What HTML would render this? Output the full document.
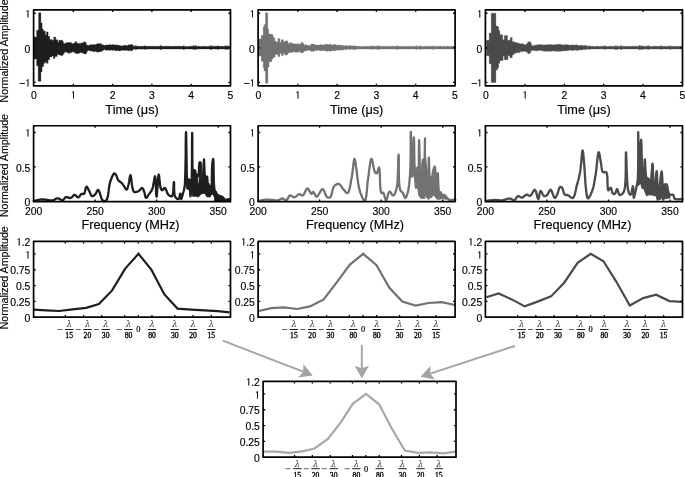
<!DOCTYPE html>
<html><head><meta charset="utf-8"><title>Figure</title>
<style>html,body{margin:0;padding:0;background:#fff;}svg{display:block;}</style></head>
<body><svg width="685" height="477" viewBox="0 0 685 477">
<rect width="685" height="477" fill="#fff"/>
<text transform="translate(8.40,51.00) rotate(-90)" x="0" y="0" font-size="10.6" text-anchor="middle" font-family='"Liberation Sans", Arial, Helvetica, sans-serif' stroke="#000" stroke-width="0.15">Normalized Amplitude</text>
<text transform="translate(8.40,165.60) rotate(-90)" x="0" y="0" font-size="10.6" text-anchor="middle" font-family='"Liberation Sans", Arial, Helvetica, sans-serif' stroke="#000" stroke-width="0.15">Normalized Amplitude</text>
<text transform="translate(8.40,277.80) rotate(-90)" x="0" y="0" font-size="10.6" text-anchor="middle" font-family='"Liberation Sans", Arial, Helvetica, sans-serif' stroke="#000" stroke-width="0.15">Normalized Amplitude</text>
<text x="34.00" y="98.90" font-size="10.4" text-anchor="middle" font-family='"Liberation Sans", Arial, Helvetica, sans-serif' stroke="#000" stroke-width="0.15" >0</text>
<text x="73.30" y="98.90" font-size="10.4" text-anchor="middle" font-family='"Liberation Sans", Arial, Helvetica, sans-serif' stroke="#000" stroke-width="0.15" ><tspan font-family="IPAGothic, 'Liberation Sans', sans-serif">1</tspan></text>
<text x="112.60" y="98.90" font-size="10.4" text-anchor="middle" font-family='"Liberation Sans", Arial, Helvetica, sans-serif' stroke="#000" stroke-width="0.15" >2</text>
<text x="151.90" y="98.90" font-size="10.4" text-anchor="middle" font-family='"Liberation Sans", Arial, Helvetica, sans-serif' stroke="#000" stroke-width="0.15" >3</text>
<text x="191.20" y="98.90" font-size="10.4" text-anchor="middle" font-family='"Liberation Sans", Arial, Helvetica, sans-serif' stroke="#000" stroke-width="0.15" >4</text>
<text x="230.50" y="98.90" font-size="10.4" text-anchor="middle" font-family='"Liberation Sans", Arial, Helvetica, sans-serif' stroke="#000" stroke-width="0.15" >5</text>
<text x="30.40" y="17.95" font-size="10.4" text-anchor="end" font-family='"Liberation Sans", Arial, Helvetica, sans-serif' stroke="#000" stroke-width="0.15" ><tspan font-family="IPAGothic, 'Liberation Sans', sans-serif">1</tspan></text>
<text x="30.40" y="52.55" font-size="10.4" text-anchor="end" font-family='"Liberation Sans", Arial, Helvetica, sans-serif' stroke="#000" stroke-width="0.15" >0</text>
<text x="30.40" y="87.15" font-size="10.4" text-anchor="end" font-family='"Liberation Sans", Arial, Helvetica, sans-serif' stroke="#000" stroke-width="0.15" >&#8722;<tspan font-family="IPAGothic, 'Liberation Sans', sans-serif">1</tspan></text>
<text x="132.05" y="113.60" font-size="12.7" text-anchor="middle" font-family='"Liberation Sans", Arial, Helvetica, sans-serif' stroke="#000" stroke-width="0.15" >Time (&#956;s)</text>
<text x="258.50" y="98.90" font-size="10.4" text-anchor="middle" font-family='"Liberation Sans", Arial, Helvetica, sans-serif' stroke="#000" stroke-width="0.15" >0</text>
<text x="297.80" y="98.90" font-size="10.4" text-anchor="middle" font-family='"Liberation Sans", Arial, Helvetica, sans-serif' stroke="#000" stroke-width="0.15" ><tspan font-family="IPAGothic, 'Liberation Sans', sans-serif">1</tspan></text>
<text x="337.10" y="98.90" font-size="10.4" text-anchor="middle" font-family='"Liberation Sans", Arial, Helvetica, sans-serif' stroke="#000" stroke-width="0.15" >2</text>
<text x="376.40" y="98.90" font-size="10.4" text-anchor="middle" font-family='"Liberation Sans", Arial, Helvetica, sans-serif' stroke="#000" stroke-width="0.15" >3</text>
<text x="415.70" y="98.90" font-size="10.4" text-anchor="middle" font-family='"Liberation Sans", Arial, Helvetica, sans-serif' stroke="#000" stroke-width="0.15" >4</text>
<text x="455.00" y="98.90" font-size="10.4" text-anchor="middle" font-family='"Liberation Sans", Arial, Helvetica, sans-serif' stroke="#000" stroke-width="0.15" >5</text>
<text x="254.90" y="17.95" font-size="10.4" text-anchor="end" font-family='"Liberation Sans", Arial, Helvetica, sans-serif' stroke="#000" stroke-width="0.15" ><tspan font-family="IPAGothic, 'Liberation Sans', sans-serif">1</tspan></text>
<text x="254.90" y="52.55" font-size="10.4" text-anchor="end" font-family='"Liberation Sans", Arial, Helvetica, sans-serif' stroke="#000" stroke-width="0.15" >0</text>
<text x="254.90" y="87.15" font-size="10.4" text-anchor="end" font-family='"Liberation Sans", Arial, Helvetica, sans-serif' stroke="#000" stroke-width="0.15" >&#8722;<tspan font-family="IPAGothic, 'Liberation Sans', sans-serif">1</tspan></text>
<text x="356.60" y="113.60" font-size="12.7" text-anchor="middle" font-family='"Liberation Sans", Arial, Helvetica, sans-serif' stroke="#000" stroke-width="0.15" >Time (&#956;s)</text>
<text x="485.80" y="98.90" font-size="10.4" text-anchor="middle" font-family='"Liberation Sans", Arial, Helvetica, sans-serif' stroke="#000" stroke-width="0.15" >0</text>
<text x="525.10" y="98.90" font-size="10.4" text-anchor="middle" font-family='"Liberation Sans", Arial, Helvetica, sans-serif' stroke="#000" stroke-width="0.15" ><tspan font-family="IPAGothic, 'Liberation Sans', sans-serif">1</tspan></text>
<text x="564.40" y="98.90" font-size="10.4" text-anchor="middle" font-family='"Liberation Sans", Arial, Helvetica, sans-serif' stroke="#000" stroke-width="0.15" >2</text>
<text x="603.70" y="98.90" font-size="10.4" text-anchor="middle" font-family='"Liberation Sans", Arial, Helvetica, sans-serif' stroke="#000" stroke-width="0.15" >3</text>
<text x="643.00" y="98.90" font-size="10.4" text-anchor="middle" font-family='"Liberation Sans", Arial, Helvetica, sans-serif' stroke="#000" stroke-width="0.15" >4</text>
<text x="682.30" y="98.90" font-size="10.4" text-anchor="middle" font-family='"Liberation Sans", Arial, Helvetica, sans-serif' stroke="#000" stroke-width="0.15" >5</text>
<text x="482.20" y="17.95" font-size="10.4" text-anchor="end" font-family='"Liberation Sans", Arial, Helvetica, sans-serif' stroke="#000" stroke-width="0.15" ><tspan font-family="IPAGothic, 'Liberation Sans', sans-serif">1</tspan></text>
<text x="482.20" y="52.55" font-size="10.4" text-anchor="end" font-family='"Liberation Sans", Arial, Helvetica, sans-serif' stroke="#000" stroke-width="0.15" >0</text>
<text x="482.20" y="87.15" font-size="10.4" text-anchor="end" font-family='"Liberation Sans", Arial, Helvetica, sans-serif' stroke="#000" stroke-width="0.15" >&#8722;<tspan font-family="IPAGothic, 'Liberation Sans', sans-serif">1</tspan></text>
<text x="583.95" y="113.60" font-size="12.7" text-anchor="middle" font-family='"Liberation Sans", Arial, Helvetica, sans-serif' stroke="#000" stroke-width="0.15" >Time (&#956;s)</text>
<polygon points="33.5,37.0 36.6,37.0 36.6,30.3 38.2,30.3 38.2,30.3 38.6,30.3 38.6,12.8 40.9,12.8 40.9,23.1 42.1,23.1 42.1,29.1 43.3,29.1 43.3,31.1 43.7,31.1 43.7,31.1 45.3,31.1 45.3,34.7 46.5,34.7 46.5,31.9 48.1,31.9 48.1,36.3 49.7,36.3 49.7,39.4 51.7,39.4 51.7,39.4 52.1,39.4 52.1,40.2 53.3,40.2 53.3,40.2 53.7,40.2 53.7,37.0 54.9,37.0 54.9,37.0 55.7,37.0 55.7,39.8 57.3,39.8 57.3,39.8 57.7,39.8 57.7,42.2 58.8,42.2 58.8,40.2 60.3,40.2 60.3,40.5 61.3,40.5 61.3,40.1 62.3,40.1 62.3,41.2 63.3,41.2 63.3,43.2 64.3,43.2 64.3,43.8 65.3,43.8 65.3,43.1 66.3,43.1 66.3,42.4 67.3,42.4 67.3,42.7 68.3,42.7 68.3,42.4 69.3,42.4 69.3,42.5 70.3,42.5 70.3,42.5 71.3,42.5 71.3,43.2 72.3,43.2 72.3,43.9 73.3,43.9 73.3,43.3 74.3,43.3 74.3,42.7 75.3,42.7 75.3,41.5 76.3,41.5 76.3,42.4 77.3,42.4 77.3,43.8 78.3,43.8 78.3,43.3 79.3,43.3 79.3,43.7 80.3,43.7 80.3,43.5 81.3,43.5 81.3,42.8 82.3,42.8 82.3,42.9 83.3,42.9 83.3,42.2 84.3,42.2 84.3,41.7 85.3,41.7 85.3,42.8 86.3,42.8 86.3,45.0 87.3,45.0 87.3,45.3 88.3,45.3 88.3,45.5 89.3,45.5 89.3,45.0 90.3,45.0 90.3,44.6 91.3,44.6 91.3,44.7 92.3,44.7 92.3,44.7 93.3,44.7 93.3,44.4 94.3,44.4 94.3,44.6 95.3,44.6 95.3,44.8 96.3,44.8 96.3,44.0 97.3,44.0 97.3,43.4 98.3,43.4 98.3,43.7 99.3,43.7 99.3,43.8 100.3,43.8 100.3,43.6 101.3,43.6 101.3,44.4 102.3,44.4 102.3,44.8 103.3,44.8 103.3,45.3 104.3,45.3 104.3,45.5 105.3,45.5 105.3,45.1 106.3,45.1 106.3,44.9 107.3,44.9 107.3,45.1 108.3,45.1 108.3,45.1 109.3,45.1 109.3,44.4 110.3,44.4 110.3,45.0 111.3,45.0 111.3,44.9 112.3,44.9 112.3,44.5 113.3,44.5 113.3,45.1 114.3,45.1 114.3,45.0 115.3,45.0 115.3,44.7 116.3,44.7 116.3,45.2 117.3,45.2 117.3,45.1 118.3,45.1 118.3,45.3 119.3,45.3 119.3,45.5 120.3,45.5 120.3,45.8 121.3,45.8 121.3,46.0 122.3,46.0 122.3,45.8 123.3,45.8 123.3,45.6 124.3,45.6 124.3,45.3 125.3,45.3 125.3,45.5 126.3,45.5 126.3,45.4 127.3,45.4 127.3,45.5 128.3,45.5 128.3,44.7 129.3,44.7 129.3,44.9 130.3,44.9 130.3,44.6 131.3,44.6 131.3,44.6 132.3,44.6 132.3,45.1 133.3,45.1 133.3,46.4 134.3,46.4 134.3,46.2 135.3,46.2 135.3,45.6 136.3,45.6 136.3,46.2 137.3,46.2 137.3,46.2 138.3,46.2 138.3,46.3 139.3,46.3 139.3,46.2 140.3,46.2 140.3,46.3 141.3,46.3 141.3,46.2 142.3,46.2 142.3,46.2 143.3,46.2 143.3,46.3 144.3,46.3 144.3,45.8 145.3,45.8 145.3,46.3 146.3,46.3 146.3,46.2 147.3,46.2 147.3,46.3 148.3,46.3 148.3,46.3 149.3,46.3 149.3,46.2 150.3,46.2 150.3,46.3 151.3,46.3 151.3,46.3 152.3,46.3 152.3,46.2 153.3,46.2 153.3,46.2 154.3,46.2 154.3,46.2 155.3,46.2 155.3,46.2 156.3,46.2 156.3,46.4 157.3,46.4 157.3,46.2 158.3,46.2 158.3,46.2 159.3,46.2 159.3,46.3 160.3,46.3 160.3,45.6 161.3,45.6 161.3,46.2 162.3,46.2 162.3,46.2 163.3,46.2 163.3,46.3 164.3,46.3 164.3,46.3 165.3,46.3 165.3,46.2 166.3,46.2 166.3,46.3 167.3,46.3 167.3,46.2 168.3,46.2 168.3,46.2 169.3,46.2 169.3,46.3 170.3,46.3 170.3,46.4 171.3,46.4 171.3,46.3 172.3,46.3 172.3,46.3 173.3,46.3 173.3,46.3 174.3,46.3 174.3,46.2 175.3,46.2 175.3,46.3 176.3,46.3 176.3,46.3 177.3,46.3 177.3,46.2 178.3,46.2 178.3,46.3 179.3,46.3 179.3,46.3 180.3,46.3 180.3,46.3 181.3,46.3 181.3,46.3 182.3,46.3 182.3,46.4 183.3,46.4 183.3,45.7 184.3,45.7 184.3,46.4 185.3,46.4 185.3,46.4 186.3,46.4 186.3,46.4 187.3,46.4 187.3,46.4 188.3,46.4 188.3,46.4 189.3,46.4 189.3,46.3 190.3,46.3 190.3,46.2 191.3,46.2 191.3,46.3 192.3,46.3 192.3,46.3 193.3,46.3 193.3,45.6 194.3,45.6 194.3,46.4 195.3,46.4 195.3,45.6 196.3,45.6 196.3,46.4 197.3,46.4 197.3,46.3 198.3,46.3 198.3,46.3 199.3,46.3 199.3,46.4 200.3,46.4 200.3,46.4 201.3,46.4 201.3,46.2 202.3,46.2 202.3,46.4 203.3,46.4 203.3,46.3 204.3,46.3 204.3,46.3 205.3,46.3 205.3,46.3 206.3,46.3 206.3,46.4 207.3,46.4 207.3,46.4 208.3,46.4 208.3,46.3 209.3,46.3 209.3,46.4 210.3,46.4 210.3,45.6 211.3,45.6 211.3,46.3 212.3,46.3 212.3,46.2 213.3,46.2 213.3,46.2 214.3,46.2 214.3,46.3 215.3,46.3 215.3,46.2 216.3,46.2 216.3,46.3 217.3,46.3 217.3,45.7 218.3,45.7 218.3,46.3 219.3,46.3 219.3,46.3 220.3,46.3 220.3,46.3 221.3,46.3 221.3,46.3 222.3,46.3 222.3,46.4 223.3,46.4 223.3,46.3 224.3,46.3 224.3,46.3 225.3,46.3 225.3,45.7 226.3,45.7 226.3,46.4 227.3,46.4 227.3,45.7 228.3,45.7 228.3,46.4 229.3,46.4 229.3,46.4 230.0,46.4 230.0,48.9 229.3,48.9 229.3,48.8 228.3,48.8 228.3,49.5 227.3,49.5 227.3,48.9 226.3,48.9 226.3,49.6 225.3,49.6 225.3,48.9 224.3,48.9 224.3,49.0 223.3,49.0 223.3,49.0 222.3,49.0 222.3,49.0 221.3,49.0 221.3,48.9 220.3,48.9 220.3,49.1 219.3,49.1 219.3,48.9 218.3,48.9 218.3,49.5 217.3,49.5 217.3,49.0 216.3,49.0 216.3,49.1 215.3,49.1 215.3,49.1 214.3,49.1 214.3,49.1 213.3,49.1 213.3,49.1 212.3,49.1 212.3,49.0 211.3,49.0 211.3,49.7 210.3,49.7 210.3,48.9 209.3,48.9 209.3,49.0 208.3,49.0 208.3,49.0 207.3,49.0 207.3,48.9 206.3,48.9 206.3,48.9 205.3,48.9 205.3,48.9 204.3,48.9 204.3,49.0 203.3,49.0 203.3,48.9 202.3,48.9 202.3,49.0 201.3,49.0 201.3,48.9 200.3,48.9 200.3,48.9 199.3,48.9 199.3,49.0 198.3,49.0 198.3,48.9 197.3,48.9 197.3,49.0 196.3,49.0 196.3,49.6 195.3,49.6 195.3,48.9 194.3,48.9 194.3,49.7 193.3,49.7 193.3,49.0 192.3,49.0 192.3,48.9 191.3,48.9 191.3,49.0 190.3,49.0 190.3,48.9 189.3,48.9 189.3,48.9 188.3,48.9 188.3,49.0 187.3,49.0 187.3,49.0 186.3,49.0 186.3,49.0 185.3,49.0 185.3,48.9 184.3,48.9 184.3,49.7 183.3,49.7 183.3,48.9 182.3,48.9 182.3,48.9 181.3,48.9 181.3,49.1 180.3,49.1 180.3,49.1 179.3,49.1 179.3,49.0 178.3,49.0 178.3,49.0 177.3,49.0 177.3,49.0 176.3,49.0 176.3,49.1 175.3,49.1 175.3,49.1 174.3,49.1 174.3,49.0 173.3,49.0 173.3,49.0 172.3,49.0 172.3,49.0 171.3,49.0 171.3,48.9 170.3,48.9 170.3,48.9 169.3,48.9 169.3,49.0 168.3,49.0 168.3,49.1 167.3,49.1 167.3,49.1 166.3,49.1 166.3,49.1 165.3,49.1 165.3,48.9 164.3,48.9 164.3,48.9 163.3,48.9 163.3,49.0 162.3,49.0 162.3,49.1 161.3,49.1 161.3,49.7 160.3,49.7 160.3,49.0 159.3,49.0 159.3,49.1 158.3,49.1 158.3,49.0 157.3,49.0 157.3,48.9 156.3,48.9 156.3,49.1 155.3,49.1 155.3,49.1 154.3,49.1 154.3,49.1 153.3,49.1 153.3,49.1 152.3,49.1 152.3,49.1 151.3,49.1 151.3,49.1 150.3,49.1 150.3,49.1 149.3,49.1 149.3,48.9 148.3,48.9 148.3,48.9 147.3,48.9 147.3,49.2 146.3,49.2 146.3,49.1 145.3,49.1 145.3,49.5 144.3,49.5 144.3,49.0 143.3,49.0 143.3,49.1 142.3,49.1 142.3,49.2 141.3,49.2 141.3,48.9 140.3,48.9 140.3,49.1 139.3,49.1 139.3,48.9 138.3,48.9 138.3,49.2 137.3,49.2 137.3,49.0 136.3,49.0 136.3,49.7 135.3,49.7 135.3,49.0 134.3,49.0 134.3,48.9 133.3,48.9 133.3,50.1 132.3,50.1 132.3,50.9 131.3,50.9 131.3,50.6 130.3,50.6 130.3,50.5 129.3,50.5 129.3,50.8 128.3,50.8 128.3,50.4 127.3,50.4 127.3,50.3 126.3,50.3 126.3,50.2 125.3,50.2 125.3,50.4 124.3,50.4 124.3,50.3 123.3,50.3 123.3,50.2 122.3,50.2 122.3,50.3 121.3,50.3 121.3,50.5 120.3,50.5 120.3,50.9 119.3,50.9 119.3,50.9 118.3,50.9 118.3,50.5 117.3,50.5 117.3,50.5 116.3,50.5 116.3,50.9 115.3,50.9 115.3,50.3 114.3,50.3 114.3,50.0 113.3,50.0 113.3,50.4 112.3,50.4 112.3,50.1 111.3,50.1 111.3,49.9 110.3,49.9 110.3,50.5 109.3,50.5 109.3,50.1 108.3,50.1 108.3,49.9 107.3,49.9 107.3,50.4 106.3,50.4 106.3,50.1 105.3,50.1 105.3,49.6 104.3,49.6 104.3,50.1 103.3,50.1 103.3,50.4 102.3,50.4 102.3,51.2 101.3,51.2 101.3,51.7 100.3,51.7 100.3,51.5 99.3,51.5 99.3,51.9 98.3,51.9 98.3,52.2 97.3,52.2 97.3,52.1 96.3,52.1 96.3,51.3 95.3,51.3 95.3,51.6 94.3,51.6 94.3,51.8 93.3,51.8 93.3,51.2 92.3,51.2 92.3,51.1 91.3,51.1 91.3,51.1 90.3,51.1 90.3,50.9 89.3,50.9 89.3,50.2 88.3,50.2 88.3,50.6 87.3,50.6 87.3,52.2 86.3,52.2 86.3,54.0 85.3,54.0 85.3,54.0 84.3,54.0 84.3,53.5 83.3,53.5 83.3,52.7 82.3,52.7 82.3,53.0 81.3,53.0 81.3,52.3 80.3,52.3 80.3,52.7 79.3,52.7 79.3,53.6 78.3,53.6 78.3,53.3 77.3,53.3 77.3,53.7 76.3,53.7 76.3,53.4 75.3,53.4 75.3,52.5 74.3,52.5 74.3,52.3 73.3,52.3 73.3,51.5 72.3,51.5 72.3,52.3 71.3,52.3 71.3,52.8 70.3,52.8 70.3,52.8 69.3,52.8 69.3,53.4 68.3,53.4 68.3,52.4 67.3,52.4 67.3,52.6 66.3,52.6 66.3,51.8 65.3,51.8 65.3,52.3 64.3,52.3 64.3,53.5 63.3,53.5 63.3,55.1 62.3,55.1 62.3,55.8 61.3,55.8 61.3,55.2 60.3,55.2 60.3,55.0 58.8,55.0 58.8,54.2 57.7,54.2 57.7,54.2 57.3,54.2 57.3,56.5 55.7,56.5 55.7,56.5 54.9,56.5 54.9,58.5 53.7,58.5 53.7,58.5 53.3,58.5 53.3,56.1 52.1,56.1 52.1,56.1 51.7,56.1 51.7,56.9 49.7,56.9 49.7,59.7 48.1,59.7 48.1,63.3 46.5,63.3 46.5,61.7 45.3,61.7 45.3,63.3 43.7,63.3 43.7,66.5 43.3,66.5 43.3,66.5 42.1,66.5 42.1,71.7 40.9,71.7 40.9,81.2 38.6,81.2 38.6,81.2 38.2,81.2 38.2,65.7 36.6,65.7 36.6,58.9 33.5,58.9" fill="#1e1e1e" stroke="#1e1e1e" stroke-width="0.3" stroke-linejoin="miter"/>
<polygon points="258.8,39.0 261.2,39.0 261.2,35.5 263.2,35.5 263.2,26.7 264.0,26.7 264.0,26.7 264.4,26.7 264.4,24.3 265.5,24.3 265.5,12.8 267.8,12.8 267.8,29.1 267.9,29.1 267.9,29.1 268.7,29.1 268.7,33.9 269.1,33.9 269.1,33.9 271.5,33.9 271.5,34.7 271.9,34.7 271.9,34.7 273.1,34.7 273.1,37.4 274.7,37.4 274.7,41.0 275.1,41.0 275.1,41.0 276.3,41.0 276.3,42.2 277.9,42.2 277.9,38.6 279.9,38.6 279.9,42.6 281.1,42.6 281.1,39.8 281.5,39.8 281.5,39.8 283.4,39.8 283.4,41.8 284.9,41.8 284.9,41.0 285.9,41.0 285.9,40.7 286.9,40.7 286.9,41.1 287.9,41.1 287.9,43.3 288.9,43.3 288.9,43.6 289.9,43.6 289.9,42.4 290.9,42.4 290.9,42.9 291.9,42.9 291.9,43.6 292.9,43.6 292.9,43.5 293.9,43.5 293.9,44.1 294.9,44.1 294.9,43.9 295.9,43.9 295.9,44.0 296.9,44.0 296.9,43.8 297.9,43.8 297.9,43.8 298.9,43.8 298.9,44.4 299.9,44.4 299.9,43.7 300.9,43.7 300.9,42.7 301.9,42.7 301.9,42.5 302.9,42.5 302.9,43.4 303.9,43.4 303.9,45.2 304.9,45.2 304.9,44.6 305.9,44.6 305.9,44.9 306.9,44.9 306.9,45.4 307.9,45.4 307.9,45.2 308.9,45.2 308.9,45.4 309.9,45.4 309.9,45.5 310.9,45.5 310.9,44.1 311.9,44.1 311.9,44.1 312.9,44.1 312.9,44.0 313.9,44.0 313.9,44.3 314.9,44.3 314.9,44.9 315.9,44.9 315.9,45.1 316.9,45.1 316.9,45.0 317.9,45.0 317.9,45.1 318.9,45.1 318.9,45.0 319.9,45.0 319.9,44.6 320.9,44.6 320.9,44.9 321.9,44.9 321.9,44.7 322.9,44.7 322.9,45.1 323.9,45.1 323.9,45.0 324.9,45.0 324.9,44.1 325.9,44.1 325.9,44.7 326.9,44.7 326.9,44.1 327.9,44.1 327.9,44.7 328.9,44.7 328.9,44.0 329.9,44.0 329.9,44.4 330.9,44.4 330.9,44.7 331.9,44.7 331.9,45.1 332.9,45.1 332.9,44.8 333.9,44.8 333.9,44.6 334.9,44.6 334.9,44.5 335.9,44.5 335.9,45.2 336.9,45.2 336.9,45.0 337.9,45.0 337.9,45.2 338.9,45.2 338.9,45.3 339.9,45.3 339.9,44.9 340.9,44.9 340.9,45.2 341.9,45.2 341.9,45.8 342.9,45.8 342.9,45.4 343.9,45.4 343.9,45.7 344.9,45.7 344.9,45.8 345.9,45.8 345.9,45.6 346.9,45.6 346.9,45.8 347.9,45.8 347.9,46.0 348.9,46.0 348.9,45.6 349.9,45.6 349.9,45.6 350.9,45.6 350.9,46.1 351.9,46.1 351.9,46.1 352.9,46.1 352.9,45.8 353.9,45.8 353.9,45.9 354.9,45.9 354.9,45.9 355.9,45.9 355.9,46.1 356.9,46.1 356.9,46.5 357.9,46.5 357.9,46.3 358.9,46.3 358.9,46.3 359.9,46.3 359.9,46.4 360.9,46.4 360.9,46.4 361.9,46.4 361.9,46.4 362.9,46.4 362.9,46.3 363.9,46.3 363.9,46.4 364.9,46.4 364.9,46.3 365.9,46.3 365.9,46.2 366.9,46.2 366.9,46.3 367.9,46.3 367.9,46.4 368.9,46.4 368.9,46.3 369.9,46.3 369.9,46.3 370.9,46.3 370.9,46.3 371.9,46.3 371.9,45.8 372.9,45.8 372.9,46.3 373.9,46.3 373.9,46.3 374.9,46.3 374.9,46.3 375.9,46.3 375.9,46.3 376.9,46.3 376.9,45.8 377.9,45.8 377.9,46.3 378.9,46.3 378.9,45.8 379.9,45.8 379.9,46.3 380.9,46.3 380.9,46.4 381.9,46.4 381.9,46.3 382.9,46.3 382.9,46.3 383.9,46.3 383.9,46.2 384.9,46.2 384.9,46.4 385.9,46.4 385.9,46.3 386.9,46.3 386.9,46.3 387.9,46.3 387.9,46.4 388.9,46.4 388.9,46.3 389.9,46.3 389.9,46.4 390.9,46.4 390.9,46.2 391.9,46.2 391.9,46.3 392.9,46.3 392.9,46.2 393.9,46.2 393.9,46.4 394.9,46.4 394.9,46.3 395.9,46.3 395.9,46.2 396.9,46.2 396.9,45.7 397.9,45.7 397.9,46.4 398.9,46.4 398.9,46.3 399.9,46.3 399.9,46.4 400.9,46.4 400.9,46.4 401.9,46.4 401.9,46.2 402.9,46.2 402.9,46.4 403.9,46.4 403.9,46.2 404.9,46.2 404.9,46.4 405.9,46.4 405.9,46.4 406.9,46.4 406.9,46.2 407.9,46.2 407.9,46.2 408.9,46.2 408.9,46.4 409.9,46.4 409.9,46.4 410.9,46.4 410.9,46.3 411.9,46.3 411.9,46.4 412.9,46.4 412.9,46.2 413.9,46.2 413.9,46.4 414.9,46.4 414.9,46.2 415.9,46.2 415.9,45.7 416.9,45.7 416.9,46.4 417.9,46.4 417.9,46.4 418.9,46.4 418.9,46.2 419.9,46.2 419.9,45.8 420.9,45.8 420.9,46.3 421.9,46.3 421.9,46.4 422.9,46.4 422.9,46.4 423.9,46.4 423.9,46.3 424.9,46.3 424.9,46.2 425.9,46.2 425.9,46.4 426.9,46.4 426.9,46.2 427.9,46.2 427.9,46.4 428.9,46.4 428.9,46.2 429.9,46.2 429.9,46.3 430.9,46.3 430.9,46.3 431.9,46.3 431.9,46.4 432.9,46.4 432.9,45.8 433.9,45.8 433.9,46.4 434.9,46.4 434.9,46.4 435.9,46.4 435.9,46.2 436.9,46.2 436.9,46.4 437.9,46.4 437.9,46.3 438.9,46.3 438.9,46.3 439.9,46.3 439.9,46.2 440.9,46.2 440.9,46.2 441.9,46.2 441.9,46.4 442.9,46.4 442.9,46.3 443.9,46.3 443.9,46.2 444.9,46.2 444.9,46.4 445.9,46.4 445.9,46.4 446.9,46.4 446.9,46.1 447.9,46.1 447.9,46.3 448.9,46.3 448.9,46.4 449.9,46.4 449.9,46.4 450.9,46.4 450.9,46.2 451.9,46.2 451.9,46.3 452.9,46.3 452.9,46.2 453.9,46.2 453.9,46.2 454.9,46.2 454.9,46.4 455.5,46.4 455.5,48.9 454.9,48.9 454.9,49.0 453.9,49.0 453.9,49.1 452.9,49.1 452.9,49.0 451.9,49.0 451.9,49.1 450.9,49.1 450.9,49.0 449.9,49.0 449.9,48.9 448.9,48.9 448.9,49.1 447.9,49.1 447.9,49.1 446.9,49.1 446.9,49.0 445.9,49.0 445.9,49.0 444.9,49.0 444.9,49.1 443.9,49.1 443.9,48.9 442.9,48.9 442.9,49.0 441.9,49.0 441.9,49.1 440.9,49.1 440.9,49.1 439.9,49.1 439.9,49.0 438.9,49.0 438.9,49.0 437.9,49.0 437.9,48.9 436.9,48.9 436.9,49.1 435.9,49.1 435.9,49.0 434.9,49.0 434.9,48.8 433.9,48.8 433.9,49.6 432.9,49.6 432.9,49.0 431.9,49.0 431.9,49.0 430.9,49.0 430.9,49.1 429.9,49.1 429.9,49.1 428.9,49.1 428.9,48.9 427.9,48.9 427.9,49.2 426.9,49.2 426.9,48.9 425.9,48.9 425.9,49.1 424.9,49.1 424.9,48.9 423.9,48.9 423.9,49.0 422.9,49.0 422.9,49.0 421.9,49.0 421.9,49.1 420.9,49.1 420.9,49.5 419.9,49.5 419.9,49.0 418.9,49.0 418.9,48.9 417.9,48.9 417.9,48.9 416.9,48.9 416.9,49.6 415.9,49.6 415.9,49.1 414.9,49.1 414.9,48.9 413.9,48.9 413.9,49.1 412.9,49.1 412.9,48.9 411.9,48.9 411.9,49.0 410.9,49.0 410.9,48.9 409.9,48.9 409.9,49.0 408.9,49.0 408.9,49.2 407.9,49.2 407.9,49.1 406.9,49.1 406.9,48.8 405.9,48.8 405.9,49.0 404.9,49.0 404.9,49.1 403.9,49.1 403.9,48.9 402.9,48.9 402.9,49.1 401.9,49.1 401.9,49.0 400.9,49.0 400.9,49.0 399.9,49.0 399.9,49.0 398.9,49.0 398.9,49.0 397.9,49.0 397.9,49.6 396.9,49.6 396.9,49.1 395.9,49.1 395.9,49.0 394.9,49.0 394.9,48.9 393.9,48.9 393.9,49.1 392.9,49.1 392.9,49.0 391.9,49.0 391.9,49.1 390.9,49.1 390.9,48.9 389.9,48.9 389.9,48.9 388.9,48.9 388.9,48.9 387.9,48.9 387.9,49.1 386.9,49.1 386.9,48.9 385.9,48.9 385.9,49.0 384.9,49.0 384.9,49.0 383.9,49.0 383.9,49.1 382.9,49.1 382.9,49.1 381.9,49.1 381.9,48.9 380.9,48.9 380.9,49.1 379.9,49.1 379.9,49.6 378.9,49.6 378.9,49.0 377.9,49.0 377.9,49.5 376.9,49.5 376.9,49.1 375.9,49.1 375.9,49.0 374.9,49.0 374.9,48.9 373.9,48.9 373.9,49.0 372.9,49.0 372.9,49.6 371.9,49.6 371.9,49.0 370.9,49.0 370.9,49.0 369.9,49.0 369.9,49.1 368.9,49.1 368.9,48.9 367.9,48.9 367.9,48.9 366.9,48.9 366.9,49.1 365.9,49.1 365.9,49.0 364.9,49.0 364.9,48.9 363.9,48.9 363.9,49.0 362.9,49.0 362.9,49.0 361.9,49.0 361.9,49.0 360.9,49.0 360.9,48.9 359.9,48.9 359.9,48.9 358.9,48.9 358.9,49.1 357.9,49.1 357.9,48.9 356.9,48.9 356.9,49.2 355.9,49.2 355.9,49.5 354.9,49.5 354.9,49.4 353.9,49.4 353.9,49.5 352.9,49.5 352.9,49.0 351.9,49.0 351.9,49.1 350.9,49.1 350.9,49.5 349.9,49.5 349.9,49.4 348.9,49.4 348.9,48.9 347.9,48.9 347.9,49.3 346.9,49.3 346.9,49.5 345.9,49.5 345.9,49.6 344.9,49.6 344.9,49.5 343.9,49.5 343.9,50.0 342.9,50.0 342.9,49.6 341.9,49.6 341.9,50.2 340.9,50.2 340.9,50.2 339.9,50.2 339.9,49.9 338.9,49.9 338.9,50.0 337.9,50.0 337.9,50.3 336.9,50.3 336.9,49.9 335.9,49.9 335.9,50.8 334.9,50.8 334.9,50.7 333.9,50.7 333.9,50.8 332.9,50.8 332.9,50.5 331.9,50.5 331.9,51.0 330.9,51.0 330.9,51.0 329.9,51.0 329.9,51.3 328.9,51.3 328.9,50.7 327.9,50.7 327.9,51.3 326.9,51.3 326.9,50.9 325.9,50.9 325.9,51.1 324.9,51.1 324.9,50.6 323.9,50.6 323.9,50.5 322.9,50.5 322.9,50.7 321.9,50.7 321.9,50.5 320.9,50.5 320.9,50.9 319.9,50.9 319.9,50.5 318.9,50.5 318.9,50.0 317.9,50.0 317.9,50.4 316.9,50.4 316.9,50.4 315.9,50.4 315.9,50.2 314.9,50.2 314.9,51.1 313.9,51.1 313.9,51.5 312.9,51.5 312.9,51.1 311.9,51.1 311.9,51.5 310.9,51.5 310.9,50.6 309.9,50.6 309.9,50.4 308.9,50.4 308.9,50.3 307.9,50.3 307.9,50.4 306.9,50.4 306.9,50.8 305.9,50.8 305.9,51.1 304.9,51.1 304.9,50.9 303.9,50.9 303.9,52.2 302.9,52.2 302.9,52.9 301.9,52.9 301.9,52.9 300.9,52.9 300.9,52.0 299.9,52.0 299.9,51.5 298.9,51.5 298.9,52.0 297.9,52.0 297.9,52.3 296.9,52.3 296.9,52.2 295.9,52.2 295.9,52.2 294.9,52.2 294.9,51.8 293.9,51.8 293.9,52.1 292.9,52.1 292.9,52.1 291.9,52.1 291.9,52.7 290.9,52.7 290.9,52.6 289.9,52.6 289.9,52.4 288.9,52.4 288.9,53.0 287.9,53.0 287.9,54.4 286.9,54.4 286.9,55.0 285.9,55.0 285.9,55.2 284.9,55.2 284.9,53.4 283.4,53.4 283.4,55.4 281.5,55.4 281.5,53.4 281.1,53.4 281.1,53.4 279.9,53.4 279.9,56.5 277.9,56.5 277.9,54.6 276.3,54.6 276.3,54.6 275.1,54.6 275.1,57.3 274.7,57.3 274.7,57.3 273.1,57.3 273.1,58.9 271.9,58.9 271.9,61.7 271.5,61.7 271.5,61.7 269.1,61.7 269.1,66.9 268.7,66.9 268.7,66.9 267.9,66.9 267.9,83.2 267.8,83.2 267.8,83.2 265.5,83.2 265.5,70.9 264.4,70.9 264.4,70.9 264.0,70.9 264.0,67.7 263.2,67.7 263.2,61.3 261.2,61.3 261.2,56.1 258.8,56.1" fill="#727272" stroke="#727272" stroke-width="0.3" stroke-linejoin="miter"/>
<polygon points="486.4,40.2 489.2,40.2 489.2,33.1 491.2,33.1 491.2,13.2 495.9,13.2 495.9,25.9 497.5,25.9 497.5,26.7 498.7,26.7 498.7,30.7 499.9,30.7 499.9,34.7 502.7,34.7 502.7,39.8 503.1,39.8 503.1,39.8 504.3,39.8 504.3,35.5 507.5,35.5 507.5,40.2 507.9,40.2 507.9,40.2 509.9,40.2 509.9,40.2 510.3,40.2 510.3,37.4 512.2,37.4 512.2,41.4 513.7,41.4 513.7,42.2 514.7,42.2 514.7,41.9 515.7,41.9 515.7,43.0 516.7,43.0 516.7,42.5 517.7,42.5 517.7,43.4 518.7,43.4 518.7,43.2 519.7,43.2 519.7,44.0 520.7,44.0 520.7,43.8 521.7,43.8 521.7,43.5 522.7,43.5 522.7,44.3 523.7,44.3 523.7,44.3 524.7,44.3 524.7,44.9 525.7,44.9 525.7,44.4 526.7,44.4 526.7,43.4 527.7,43.4 527.7,41.9 528.7,41.9 528.7,41.9 529.7,41.9 529.7,41.7 530.7,41.7 530.7,43.7 531.7,43.7 531.7,45.8 532.7,45.8 532.7,45.7 533.7,45.7 533.7,45.2 534.7,45.2 534.7,45.5 535.7,45.5 535.7,44.9 536.7,44.9 536.7,45.1 537.7,45.1 537.7,44.7 538.7,44.7 538.7,44.7 539.7,44.7 539.7,44.4 540.7,44.4 540.7,44.9 541.7,44.9 541.7,44.6 542.7,44.6 542.7,45.2 543.7,45.2 543.7,44.9 544.7,44.9 544.7,45.1 545.7,45.1 545.7,44.7 546.7,44.7 546.7,44.7 547.7,44.7 547.7,44.6 548.7,44.6 548.7,44.6 549.7,44.6 549.7,45.1 550.7,45.1 550.7,44.5 551.7,44.5 551.7,45.1 552.7,45.1 552.7,44.8 553.7,44.8 553.7,45.0 554.7,45.0 554.7,44.6 555.7,44.6 555.7,45.1 556.7,45.1 556.7,44.3 557.7,44.3 557.7,44.2 558.7,44.2 558.7,44.5 559.7,44.5 559.7,44.3 560.7,44.3 560.7,44.7 561.7,44.7 561.7,44.7 562.7,44.7 562.7,44.7 563.7,44.7 563.7,45.2 564.7,45.2 564.7,44.7 565.7,44.7 565.7,44.6 566.7,44.6 566.7,44.8 567.7,44.8 567.7,44.8 568.7,44.8 568.7,45.2 569.7,45.2 569.7,45.3 570.7,45.3 570.7,44.9 571.7,44.9 571.7,44.9 572.7,44.9 572.7,45.0 573.7,45.0 573.7,45.1 574.7,45.1 574.7,45.2 575.7,45.2 575.7,44.8 576.7,44.8 576.7,45.2 577.7,45.2 577.7,45.3 578.7,45.3 578.7,45.8 579.7,45.8 579.7,45.6 580.7,45.6 580.7,45.1 581.7,45.1 581.7,45.5 582.7,45.5 582.7,45.9 583.7,45.9 583.7,45.4 584.7,45.4 584.7,45.4 585.7,45.4 585.7,45.5 586.7,45.5 586.7,46.2 587.7,46.2 587.7,46.3 588.7,46.3 588.7,45.7 589.7,45.7 589.7,46.3 590.7,46.3 590.7,46.2 591.7,46.2 591.7,46.3 592.7,46.3 592.7,46.3 593.7,46.3 593.7,46.4 594.7,46.4 594.7,46.4 595.7,46.4 595.7,46.2 596.7,46.2 596.7,46.2 597.7,46.2 597.7,46.2 598.7,46.2 598.7,46.4 599.7,46.4 599.7,46.3 600.7,46.3 600.7,46.4 601.7,46.4 601.7,46.3 602.7,46.3 602.7,46.2 603.7,46.2 603.7,46.2 604.7,46.2 604.7,45.7 605.7,45.7 605.7,46.4 606.7,46.4 606.7,46.4 607.7,46.4 607.7,46.4 608.7,46.4 608.7,46.3 609.7,46.3 609.7,46.2 610.7,46.2 610.7,46.3 611.7,46.3 611.7,46.3 612.7,46.3 612.7,46.4 613.7,46.4 613.7,46.4 614.7,46.4 614.7,45.7 615.7,45.7 615.7,46.4 616.7,46.4 616.7,45.7 617.7,45.7 617.7,46.4 618.7,46.4 618.7,46.3 619.7,46.3 619.7,46.3 620.7,46.3 620.7,45.6 621.7,45.6 621.7,46.5 622.7,46.5 622.7,46.3 623.7,46.3 623.7,46.3 624.7,46.3 624.7,46.4 625.7,46.4 625.7,46.3 626.7,46.3 626.7,46.4 627.7,46.4 627.7,46.2 628.7,46.2 628.7,46.3 629.7,46.3 629.7,46.2 630.7,46.2 630.7,46.4 631.7,46.4 631.7,46.2 632.7,46.2 632.7,46.3 633.7,46.3 633.7,46.3 634.7,46.3 634.7,46.2 635.7,46.2 635.7,46.3 636.7,46.3 636.7,46.3 637.7,46.3 637.7,46.4 638.7,46.4 638.7,45.6 639.7,45.6 639.7,45.8 640.7,45.8 640.7,46.3 641.7,46.3 641.7,45.7 642.7,45.7 642.7,46.2 643.7,46.2 643.7,46.4 644.7,46.4 644.7,46.2 645.7,46.2 645.7,46.2 646.7,46.2 646.7,46.3 647.7,46.3 647.7,45.6 648.7,45.6 648.7,46.2 649.7,46.2 649.7,46.4 650.7,46.4 650.7,46.4 651.7,46.4 651.7,46.4 652.7,46.4 652.7,46.2 653.7,46.2 653.7,46.2 654.7,46.2 654.7,46.2 655.7,46.2 655.7,46.3 656.7,46.3 656.7,46.3 657.7,46.3 657.7,46.2 658.7,46.2 658.7,46.3 659.7,46.3 659.7,46.3 660.7,46.3 660.7,45.7 661.7,45.7 661.7,46.4 662.7,46.4 662.7,46.2 663.7,46.2 663.7,46.3 664.7,46.3 664.7,46.3 665.7,46.3 665.7,46.4 666.7,46.4 666.7,46.2 667.7,46.2 667.7,46.3 668.7,46.3 668.7,46.4 669.7,46.4 669.7,45.7 670.7,45.7 670.7,46.3 671.7,46.3 671.7,46.4 672.7,46.4 672.7,46.3 673.7,46.3 673.7,46.3 674.7,46.3 674.7,46.2 675.7,46.2 675.7,46.4 676.7,46.4 676.7,46.2 677.7,46.2 677.7,46.2 678.7,46.2 678.7,46.4 679.7,46.4 679.7,46.3 680.7,46.3 680.7,46.3 681.7,46.3 681.7,46.3 682.5,46.3 682.5,48.9 681.7,48.9 681.7,49.0 680.7,49.0 680.7,48.9 679.7,48.9 679.7,49.0 678.7,49.0 678.7,49.1 677.7,49.1 677.7,49.0 676.7,49.0 676.7,48.9 675.7,48.9 675.7,49.1 674.7,49.1 674.7,48.9 673.7,48.9 673.7,49.1 672.7,49.1 672.7,48.9 671.7,48.9 671.7,49.0 670.7,49.0 670.7,49.5 669.7,49.5 669.7,48.9 668.7,48.9 668.7,49.0 667.7,49.0 667.7,49.1 666.7,49.1 666.7,48.9 665.7,48.9 665.7,49.0 664.7,49.0 664.7,48.9 663.7,48.9 663.7,49.1 662.7,49.1 662.7,48.9 661.7,48.9 661.7,49.6 660.7,49.6 660.7,49.1 659.7,49.1 659.7,48.9 658.7,48.9 658.7,49.0 657.7,49.0 657.7,49.1 656.7,49.1 656.7,49.0 655.7,49.0 655.7,49.0 654.7,49.0 654.7,49.1 653.7,49.1 653.7,49.0 652.7,49.0 652.7,48.9 651.7,48.9 651.7,48.9 650.7,48.9 650.7,48.9 649.7,48.9 649.7,49.1 648.7,49.1 648.7,49.7 647.7,49.7 647.7,48.9 646.7,48.9 646.7,49.1 645.7,49.1 645.7,49.1 644.7,49.1 644.7,49.0 643.7,49.0 643.7,49.0 642.7,49.0 642.7,49.7 641.7,49.7 641.7,48.9 640.7,48.9 640.7,49.5 639.7,49.5 639.7,49.7 638.7,49.7 638.7,48.9 637.7,48.9 637.7,49.1 636.7,49.1 636.7,49.1 635.7,49.1 635.7,49.1 634.7,49.1 634.7,49.1 633.7,49.1 633.7,48.9 632.7,48.9 632.7,49.0 631.7,49.0 631.7,49.0 630.7,49.0 630.7,49.0 629.7,49.0 629.7,49.1 628.7,49.1 628.7,49.1 627.7,49.1 627.7,48.9 626.7,48.9 626.7,49.1 625.7,49.1 625.7,48.9 624.7,48.9 624.7,48.9 623.7,48.9 623.7,49.0 622.7,49.0 622.7,48.9 621.7,48.9 621.7,49.7 620.7,49.7 620.7,48.9 619.7,48.9 619.7,49.1 618.7,49.1 618.7,48.9 617.7,48.9 617.7,49.7 616.7,49.7 616.7,48.9 615.7,48.9 615.7,49.6 614.7,49.6 614.7,49.0 613.7,49.0 613.7,49.0 612.7,49.0 612.7,49.0 611.7,49.0 611.7,48.9 610.7,48.9 610.7,49.1 609.7,49.1 609.7,48.9 608.7,48.9 608.7,49.0 607.7,49.0 607.7,48.9 606.7,48.9 606.7,48.9 605.7,48.9 605.7,49.5 604.7,49.5 604.7,49.0 603.7,49.0 603.7,49.1 602.7,49.1 602.7,49.0 601.7,49.0 601.7,48.8 600.7,48.8 600.7,49.0 599.7,49.0 599.7,49.0 598.7,49.0 598.7,49.0 597.7,49.0 597.7,49.1 596.7,49.1 596.7,49.1 595.7,49.1 595.7,49.0 594.7,49.0 594.7,49.0 593.7,49.0 593.7,49.0 592.7,49.0 592.7,49.0 591.7,49.0 591.7,49.0 590.7,49.0 590.7,49.1 589.7,49.1 589.7,49.5 588.7,49.5 588.7,49.0 587.7,49.0 587.7,49.1 586.7,49.1 586.7,49.5 585.7,49.5 585.7,49.6 584.7,49.6 584.7,49.6 583.7,49.6 583.7,49.2 582.7,49.2 582.7,49.9 581.7,49.9 581.7,49.9 580.7,49.9 580.7,49.9 579.7,49.9 579.7,49.7 578.7,49.7 578.7,50.2 577.7,50.2 577.7,50.4 576.7,50.4 576.7,50.3 575.7,50.3 575.7,50.1 574.7,50.1 574.7,50.1 573.7,50.1 573.7,50.5 572.7,50.5 572.7,50.4 571.7,50.4 571.7,50.3 570.7,50.3 570.7,50.1 569.7,50.1 569.7,50.2 568.7,50.2 568.7,50.5 567.7,50.5 567.7,50.6 566.7,50.6 566.7,51.1 565.7,51.1 565.7,50.8 564.7,50.8 564.7,50.5 563.7,50.5 563.7,50.9 562.7,50.9 562.7,51.0 561.7,51.0 561.7,51.1 560.7,51.1 560.7,51.3 559.7,51.3 559.7,51.3 558.7,51.3 558.7,51.4 557.7,51.4 557.7,51.3 556.7,51.3 556.7,50.7 555.7,50.7 555.7,51.4 554.7,51.4 554.7,50.7 553.7,50.7 553.7,51.1 552.7,51.1 552.7,50.8 551.7,50.8 551.7,51.3 550.7,51.3 550.7,51.0 549.7,51.0 549.7,51.2 548.7,51.2 548.7,51.2 547.7,51.2 547.7,51.3 546.7,51.3 546.7,51.3 545.7,51.3 545.7,50.8 544.7,50.8 544.7,51.4 543.7,51.4 543.7,50.5 542.7,50.5 542.7,51.1 541.7,51.1 541.7,50.3 540.7,50.3 540.7,50.6 539.7,50.6 539.7,50.2 538.7,50.2 538.7,50.6 537.7,50.6 537.7,50.5 536.7,50.5 536.7,51.1 535.7,51.1 535.7,50.4 534.7,50.4 534.7,50.6 533.7,50.6 533.7,50.6 532.7,50.6 532.7,50.6 531.7,50.6 531.7,50.8 530.7,50.8 530.7,53.1 529.7,53.1 529.7,53.6 528.7,53.6 528.7,53.7 527.7,53.7 527.7,52.3 526.7,52.3 526.7,51.7 525.7,51.7 525.7,51.3 524.7,51.3 524.7,51.4 523.7,51.4 523.7,51.3 522.7,51.3 522.7,51.8 521.7,51.8 521.7,51.8 520.7,51.8 520.7,51.5 519.7,51.5 519.7,52.7 518.7,52.7 518.7,52.2 517.7,52.2 517.7,52.9 516.7,52.9 516.7,52.4 515.7,52.4 515.7,53.5 514.7,53.5 514.7,53.4 513.7,53.4 513.7,55.0 512.2,55.0 512.2,57.7 510.3,57.7 510.3,57.7 509.9,57.7 509.9,55.8 507.9,55.8 507.9,59.7 507.5,59.7 507.5,59.7 504.3,59.7 504.3,56.1 503.1,56.1 503.1,60.5 502.7,60.5 502.7,60.5 499.9,60.5 499.9,63.3 498.7,63.3 498.7,67.7 497.5,67.7 497.5,70.1 495.9,70.1 495.9,82.4 491.2,82.4 491.2,63.7 489.2,63.7 489.2,55.8 486.4,55.8" fill="#4a4a4a" stroke="#4a4a4a" stroke-width="0.3" stroke-linejoin="miter"/>
<path d="M73.30,85.85v-2.1M73.30,9.80v2.1M112.60,85.85v-2.1M112.60,9.80v2.1M151.90,85.85v-2.1M151.90,9.80v2.1M191.20,85.85v-2.1M191.20,9.80v2.1" stroke="#000" stroke-width="1.3" fill="none"/>
<path d="M33.60,13.25h2.1M230.50,13.25h-2.1M33.60,47.85h2.1M230.50,47.85h-2.1M33.60,82.45h2.1M230.50,82.45h-2.1" stroke="#000" stroke-width="1.3" fill="none"/>
<rect x="33.60" y="9.80" width="196.90" height="76.05" fill="none" stroke="#000" stroke-width="1.7" stroke-linejoin="round"/>
<path d="M297.80,85.85v-2.1M297.80,9.80v2.1M337.10,85.85v-2.1M337.10,9.80v2.1M376.40,85.85v-2.1M376.40,9.80v2.1M415.70,85.85v-2.1M415.70,9.80v2.1" stroke="#000" stroke-width="1.3" fill="none"/>
<path d="M258.10,13.25h2.1M455.10,13.25h-2.1M258.10,47.85h2.1M455.10,47.85h-2.1M258.10,82.45h2.1M455.10,82.45h-2.1" stroke="#000" stroke-width="1.3" fill="none"/>
<rect x="258.10" y="9.80" width="197.00" height="76.05" fill="none" stroke="#000" stroke-width="1.7" stroke-linejoin="round"/>
<path d="M525.10,85.85v-2.1M525.10,9.80v2.1M564.40,85.85v-2.1M564.40,9.80v2.1M603.70,85.85v-2.1M603.70,9.80v2.1M643.00,85.85v-2.1M643.00,9.80v2.1" stroke="#000" stroke-width="1.3" fill="none"/>
<path d="M485.40,13.25h2.1M682.50,13.25h-2.1M485.40,47.85h2.1M682.50,47.85h-2.1M485.40,82.45h2.1M682.50,82.45h-2.1" stroke="#000" stroke-width="1.3" fill="none"/>
<rect x="485.40" y="9.80" width="197.10" height="76.05" fill="none" stroke="#000" stroke-width="1.7" stroke-linejoin="round"/>
<text x="33.60" y="214.50" font-size="10.4" text-anchor="middle" font-family='"Liberation Sans", Arial, Helvetica, sans-serif' stroke="#000" stroke-width="0.15" >200</text>
<text x="95.13" y="214.50" font-size="10.4" text-anchor="middle" font-family='"Liberation Sans", Arial, Helvetica, sans-serif' stroke="#000" stroke-width="0.15" >250</text>
<text x="156.67" y="214.50" font-size="10.4" text-anchor="middle" font-family='"Liberation Sans", Arial, Helvetica, sans-serif' stroke="#000" stroke-width="0.15" >300</text>
<text x="218.20" y="214.50" font-size="10.4" text-anchor="middle" font-family='"Liberation Sans", Arial, Helvetica, sans-serif' stroke="#000" stroke-width="0.15" >350</text>
<text x="30.40" y="137.20" font-size="10.4" text-anchor="end" font-family='"Liberation Sans", Arial, Helvetica, sans-serif' stroke="#000" stroke-width="0.15" ><tspan font-family="IPAGothic, 'Liberation Sans', sans-serif">1</tspan></text>
<text x="30.40" y="171.60" font-size="10.4" text-anchor="end" font-family='"Liberation Sans", Arial, Helvetica, sans-serif' stroke="#000" stroke-width="0.15" >0.5</text>
<text x="30.40" y="206.00" font-size="10.4" text-anchor="end" font-family='"Liberation Sans", Arial, Helvetica, sans-serif' stroke="#000" stroke-width="0.15" >0</text>
<text x="130.55" y="229.10" font-size="12.7" text-anchor="middle" font-family='"Liberation Sans", Arial, Helvetica, sans-serif' stroke="#000" stroke-width="0.15" >Frequency (MHz)</text>
<text x="258.10" y="214.50" font-size="10.4" text-anchor="middle" font-family='"Liberation Sans", Arial, Helvetica, sans-serif' stroke="#000" stroke-width="0.15" >200</text>
<text x="319.63" y="214.50" font-size="10.4" text-anchor="middle" font-family='"Liberation Sans", Arial, Helvetica, sans-serif' stroke="#000" stroke-width="0.15" >250</text>
<text x="381.17" y="214.50" font-size="10.4" text-anchor="middle" font-family='"Liberation Sans", Arial, Helvetica, sans-serif' stroke="#000" stroke-width="0.15" >300</text>
<text x="442.71" y="214.50" font-size="10.4" text-anchor="middle" font-family='"Liberation Sans", Arial, Helvetica, sans-serif' stroke="#000" stroke-width="0.15" >350</text>
<text x="254.90" y="137.20" font-size="10.4" text-anchor="end" font-family='"Liberation Sans", Arial, Helvetica, sans-serif' stroke="#000" stroke-width="0.15" ><tspan font-family="IPAGothic, 'Liberation Sans', sans-serif">1</tspan></text>
<text x="254.90" y="171.60" font-size="10.4" text-anchor="end" font-family='"Liberation Sans", Arial, Helvetica, sans-serif' stroke="#000" stroke-width="0.15" >0.5</text>
<text x="254.90" y="206.00" font-size="10.4" text-anchor="end" font-family='"Liberation Sans", Arial, Helvetica, sans-serif' stroke="#000" stroke-width="0.15" >0</text>
<text x="355.10" y="229.10" font-size="12.7" text-anchor="middle" font-family='"Liberation Sans", Arial, Helvetica, sans-serif' stroke="#000" stroke-width="0.15" >Frequency (MHz)</text>
<text x="485.40" y="214.50" font-size="10.4" text-anchor="middle" font-family='"Liberation Sans", Arial, Helvetica, sans-serif' stroke="#000" stroke-width="0.15" >200</text>
<text x="546.93" y="214.50" font-size="10.4" text-anchor="middle" font-family='"Liberation Sans", Arial, Helvetica, sans-serif' stroke="#000" stroke-width="0.15" >250</text>
<text x="608.47" y="214.50" font-size="10.4" text-anchor="middle" font-family='"Liberation Sans", Arial, Helvetica, sans-serif' stroke="#000" stroke-width="0.15" >300</text>
<text x="670.00" y="214.50" font-size="10.4" text-anchor="middle" font-family='"Liberation Sans", Arial, Helvetica, sans-serif' stroke="#000" stroke-width="0.15" >350</text>
<text x="482.20" y="137.20" font-size="10.4" text-anchor="end" font-family='"Liberation Sans", Arial, Helvetica, sans-serif' stroke="#000" stroke-width="0.15" ><tspan font-family="IPAGothic, 'Liberation Sans', sans-serif">1</tspan></text>
<text x="482.20" y="171.60" font-size="10.4" text-anchor="end" font-family='"Liberation Sans", Arial, Helvetica, sans-serif' stroke="#000" stroke-width="0.15" >0.5</text>
<text x="482.20" y="206.00" font-size="10.4" text-anchor="end" font-family='"Liberation Sans", Arial, Helvetica, sans-serif' stroke="#000" stroke-width="0.15" >0</text>
<text x="582.45" y="229.10" font-size="12.7" text-anchor="middle" font-family='"Liberation Sans", Arial, Helvetica, sans-serif' stroke="#000" stroke-width="0.15" >Frequency (MHz)</text>
<polygon points="186.8,178.0 188.0,179.0 189.3,179.5 190.0,183.0 190.8,186.0 191.5,183.0 193.0,175.0 193.9,169.8 195.1,171.4 195.8,178.0 196.5,183.0 198.8,183.5 199.4,176.0 199.7,162.3 200.4,162.3 200.6,183.2 201.9,183.2 202.5,175.0 203.5,160.0 204.3,160.0 205.0,176.2 207.8,176.2 208.5,188.0 211.2,190.0 211.8,175.0 212.5,160.0 213.5,160.0 214.0,182.0 214.8,190.8 216.5,192.5 216.5,195.0 215.5,197.5 214.5,197.5 212.5,193.5 211.5,193.5 210.0,196.9 208.0,196.9 206.5,196.5 205.0,193.5 202.0,193.5 200.0,195.5 198.0,197.0 197.4,197.0 196.5,196.3 194.0,196.3 192.5,196.3 191.8,189.0 190.2,188.8 189.7,189.5 188.2,189.4 187.2,189.0 186.8,188.0" fill="#1e1e1e" stroke="#1e1e1e" stroke-width="0.8" stroke-linejoin="round"/>
<polygon points="410.5,176.0 411.0,160.0 412.0,172.0 413.0,165.0 414.5,165.0 415.4,168.0 417.0,170.0 419.0,177.0 420.0,177.0 421.5,165.0 422.5,160.0 424.0,160.0 425.0,150.0 426.0,160.0 428.0,174.6 431.3,177.0 433.7,177.7 434.6,167.0 435.7,167.0 436.5,181.0 437.5,173.0 438.5,173.0 439.3,190.5 440.0,193.7 445.0,196.0 447.0,197.8 447.0,199.5 442.0,198.5 440.0,199.3 436.9,199.3 435.7,196.9 433.0,195.3 431.3,196.0 429.0,199.3 428.0,199.3 425.0,195.3 424.9,198.5 421.7,198.5 419.0,196.0 418.0,190.0 416.5,185.0 415.4,180.0 414.0,176.0" fill="#727272" stroke="#727272" stroke-width="0.8" stroke-linejoin="round"/>
<polygon points="637.5,178.0 638.2,140.0 641.2,145.0 642.5,170.0 644.0,175.0 645.8,172.0 647.0,177.0 649.0,178.9 651.0,180.0 651.8,165.0 653.2,165.0 654.0,182.5 656.0,184.0 656.5,172.0 657.3,172.0 658.0,185.0 661.0,187.0 661.5,172.0 662.3,172.0 663.0,187.0 664.2,184.0 667.4,183.9 668.5,190.0 670.0,195.0 670.0,198.0 667.0,198.5 664.0,199.0 662.5,197.0 660.5,199.5 657.5,199.5 656.0,196.0 652.0,195.0 648.0,195.0 646.0,194.5 644.5,191.0 643.5,188.0 642.0,188.8 640.5,183.0 639.0,185.0 638.0,186.0" fill="#4a4a4a" stroke="#4a4a4a" stroke-width="0.8" stroke-linejoin="round"/>
<polygon points="214.8,190.8 216.3,191.1 217.7,194.5 219.7,195.5 221.6,196.9 224.0,199.3 226.4,199.8 229.3,198.8 229.5,201.0 214.5,201.0" fill="#1e1e1e" stroke="#1e1e1e" stroke-width="0.8" stroke-linejoin="round"/>
<polyline points="33.8,200.9 35.0,200.6 36.2,200.4 37.4,200.1 38.7,199.8 39.9,199.6 41.3,199.5 43.2,199.5 45.2,199.7 47.4,200.0 49.5,200.3 51.4,200.4 53.0,200.3 53.8,200.0 54.6,199.7 55.2,199.2 55.9,198.8 56.5,198.5 57.1,198.3 57.6,198.3 58.1,198.4 58.6,198.5 59.1,198.7 59.5,198.9 60.0,199.1 60.4,199.4 60.8,199.7 61.2,200.0 61.6,200.3 62.0,200.5 62.4,200.6 63.0,200.3 63.5,199.7 64.1,198.9 64.7,198.1 65.3,197.5 65.9,197.1 66.5,197.1 67.1,197.2 67.7,197.4 68.3,197.7 68.9,197.9 69.4,198.0 69.8,198.0 70.1,198.0 70.5,197.9 70.8,197.8 71.1,197.7 71.5,197.5 72.0,197.1 72.5,196.6 73.0,196.0 73.5,195.4 74.1,195.0 74.6,194.8 75.2,195.0 75.8,195.5 76.3,196.1 76.9,196.8 77.5,197.2 78.1,197.4 78.7,197.1 79.3,196.6 79.9,195.8 80.4,195.0 81.0,194.3 81.6,193.9 82.0,193.8 82.4,193.9 82.8,194.0 83.3,194.0 83.6,194.0 84.0,193.9 84.5,193.1 85.0,191.6 85.3,190.0 85.7,188.3 86.1,187.1 86.5,186.6 86.9,186.8 87.4,187.4 87.8,188.2 88.3,189.2 88.7,190.1 89.2,191.0 89.7,191.9 90.1,193.0 90.6,194.1 91.0,195.1 91.5,195.8 92.1,196.2 92.6,196.2 93.1,196.1 93.6,195.8 94.1,195.4 94.6,194.9 95.1,194.5 95.7,193.8 96.2,192.8 96.7,191.7 97.1,190.8 97.6,190.1 98.0,189.8 98.3,189.9 98.6,190.3 98.9,190.8 99.2,191.4 99.4,192.1 99.7,192.7 100.1,193.7 100.4,195.0 100.8,196.4 101.2,197.7 101.6,198.8 102.1,199.7 102.4,200.1 102.8,200.4 103.2,200.7 103.6,200.9 104.0,201.1 104.4,201.1 104.8,201.1 105.2,201.0 105.6,200.8 106.0,200.5 106.3,200.1 106.7,199.7 107.5,197.8 108.1,194.9 108.6,191.4 109.0,187.8 109.6,184.3 110.3,181.5 110.9,179.8 111.6,178.0 112.3,176.3 113.0,174.9 113.7,173.8 114.3,173.4 114.6,173.4 114.9,173.6 115.2,173.9 115.5,174.3 115.8,174.7 116.1,175.1 116.5,175.8 116.8,176.7 117.2,177.7 117.5,178.7 117.9,179.6 118.4,180.4 118.8,180.9 119.3,181.3 119.9,181.6 120.4,182.0 120.9,182.3 121.4,182.7 121.8,183.1 122.2,183.6 122.6,184.1 122.9,184.6 123.3,185.1 123.7,185.6 124.2,186.3 124.7,187.2 125.2,188.2 125.7,189.0 126.2,189.5 126.6,189.7 127.0,189.4 127.3,188.9 127.6,188.0 127.9,187.0 128.1,186.0 128.4,185.0 128.8,183.3 129.2,181.2 129.5,179.0 129.8,177.1 130.2,175.6 130.5,175.1 130.8,175.8 131.1,177.6 131.4,180.1 131.7,182.8 132.0,185.4 132.4,187.4 132.6,188.4 132.9,189.3 133.1,190.2 133.4,191.0 133.7,191.6 134.2,192.0 134.8,192.2 135.6,192.1 136.5,191.9 137.3,191.6 138.2,191.3 138.9,190.9 139.5,190.4 140.1,189.8 140.6,189.1 141.2,188.5 141.6,188.1 142.1,188.0 142.5,188.2 142.9,188.7 143.2,189.3 143.5,190.0 143.8,190.8 144.1,191.5 144.5,192.6 144.8,193.9 145.0,195.3 145.3,196.6 145.7,197.5 146.1,197.9 146.5,197.8 146.9,197.3 147.4,196.7 147.8,195.9 148.3,195.1 148.8,194.4 149.4,193.6 150.0,192.8 150.6,192.0 151.2,191.1 151.8,190.2 152.3,189.1 152.9,187.0 153.4,184.3 153.9,181.5 154.3,178.9 154.7,177.0 155.0,176.3 155.4,177.8 155.7,181.6 155.9,186.5 156.1,191.4 156.3,195.2 156.6,196.7 156.9,195.1 157.2,191.0 157.6,185.6 157.9,180.3 158.3,176.2 158.7,174.5 159.0,175.4 159.3,177.6 159.6,180.6 159.9,183.8 160.3,186.6 160.8,188.5 161.0,189.0 161.2,189.4 161.4,189.7 161.7,190.0 161.9,190.2 162.2,190.3 162.6,190.1 163.0,189.7 163.5,189.1 163.9,188.5 164.4,188.1 164.8,188.0 165.4,188.5 165.9,189.5 166.5,190.8 167.0,192.2 167.5,193.5 168.1,194.4 168.5,194.8 168.9,195.2 169.2,195.5 169.6,195.7 170.0,195.9 170.4,196.1 170.7,196.2 171.0,196.3 171.3,196.3 171.6,196.3 171.9,196.3 172.2,196.1 172.8,194.6 173.2,191.9 173.4,188.6 173.6,185.5 173.7,183.0 173.9,182.1 174.1,183.0 174.1,185.3 174.1,188.4 174.2,191.7 174.5,194.7 175.1,196.7 175.6,197.4 176.2,198.0 176.8,198.6 177.5,198.9 178.1,199.1 178.6,199.1 179.0,198.6 179.4,197.5 179.6,196.2 179.8,194.9 180.0,194.0 180.2,193.6 180.4,194.0 180.5,195.0 180.7,196.3 180.8,197.6 181.0,198.6 181.2,199.0 181.5,198.7 181.8,197.9 182.1,196.7 182.5,195.4 182.8,194.0 183.1,192.9 183.4,192.0 183.6,191.1 183.9,190.3 184.1,189.4 184.3,188.4 184.5,187.3 184.8,185.1 185.0,182.5 185.1,179.7 185.2,176.6 185.3,173.4 185.4,170.0 185.5,163.7 185.7,155.6 185.7,147.2 185.8,139.7 185.9,134.2 186.0,132.1 186.1,133.5 186.2,137.3 186.3,142.7 186.4,148.7 186.5,154.8 186.6,160.0 186.7,164.5 186.7,169.3 186.8,174.0 186.9,178.4 187.0,182.2 187.2,185.0 187.3,185.9 187.4,186.7 187.5,187.4 187.6,188.0 187.7,188.4 187.8,188.5 187.9,187.9 188.0,186.5 188.0,184.7 188.1,182.7 188.3,181.0 188.5,180.0 188.6,179.8 188.7,179.7 188.9,179.6 189.0,179.5 189.1,179.5 189.2,179.5 189.4,179.8 189.5,180.5 189.6,181.5 189.7,182.7 189.7,183.9 189.8,185.0 189.9,186.9 190.0,189.3 190.1,191.8 190.2,194.1 190.3,195.7 190.4,196.3 190.5,196.0 190.7,195.2 190.9,193.9 191.1,192.3 191.3,190.6 191.4,188.7 191.7,181.1 191.9,169.8 192.0,157.1 192.0,145.2 192.1,136.4 192.2,133.0 192.3,136.1 192.3,143.9 192.3,154.0 192.4,164.1 192.6,171.9 193.0,175.0 193.2,174.7 193.3,173.8 193.5,172.7 193.7,171.5 193.9,170.6 194.2,170.2 194.4,170.2 194.5,170.2 194.7,170.4 194.9,170.5 195.0,170.7 195.2,171.0 195.6,172.9 195.9,176.2 196.1,180.1 196.2,183.8 196.3,186.6 196.5,187.7 196.6,186.8 196.7,184.4 196.8,181.3 196.9,178.3 197.1,175.8 197.4,174.8 197.5,174.9 197.7,175.1 197.9,175.4 198.1,175.7 198.2,175.9 198.4,176.0 198.7,174.9 198.9,172.5 199.0,169.3 199.1,166.1 199.3,163.5 199.7,162.3 199.8,162.2 199.9,162.2 200.1,162.2 200.2,162.3 200.3,162.4 200.4,162.5 200.8,164.5 200.8,168.4 200.8,173.2 200.7,177.9 200.8,181.5 201.2,183.1 201.4,183.1 201.7,182.9 202.0,182.5 202.3,182.1 202.6,181.6 202.8,181.0 203.3,178.2 203.6,173.9 203.7,168.9 203.8,164.3 203.9,160.8 204.0,159.4 204.1,160.7 204.2,164.1 204.3,168.5 204.5,173.0 204.7,176.5 205.2,178.0 205.4,177.9 205.7,177.7 205.9,177.3 206.2,176.9 206.4,176.7 206.6,176.6 207.0,177.7 207.2,180.2 207.3,183.4 207.3,186.6 207.4,189.0 207.5,190.0 207.7,189.6 207.8,188.4 208.0,187.0 208.2,185.6 208.3,184.4 208.5,184.0 208.7,184.9 208.9,187.1 209.0,190.0 209.2,192.9 209.3,195.1 209.5,196.0 209.7,195.3 209.8,193.4 210.0,191.0 210.2,188.6 210.3,186.7 210.5,186.0 210.7,186.6 210.8,188.1 211.0,190.0 211.2,191.9 211.4,193.4 211.5,194.0 211.7,192.3 211.8,187.8 211.8,181.8 211.9,175.2 212.0,169.2 212.2,165.0 212.3,163.6 212.5,162.2 212.7,161.0 212.9,159.9 213.1,159.2 213.2,159.0 213.4,160.2 213.5,163.5 213.5,167.9 213.6,172.8 213.7,177.5 213.8,181.2 213.9,183.1 214.0,184.9 214.1,186.6 214.3,188.1 214.5,189.5 214.8,190.8 215.1,191.5 215.4,192.1 215.7,192.7 216.0,193.3 216.4,193.7 216.8,194.2 217.2,194.6 217.6,194.9 218.1,195.2 218.6,195.5 219.0,195.8 219.5,196.0 220.0,196.2 220.4,196.3 220.9,196.4 221.4,196.5 221.9,196.7 222.3,196.9 222.8,197.3 223.2,197.8 223.7,198.4 224.1,198.9 224.6,199.4 225.1,199.7 225.7,199.8 226.3,199.7 227.0,199.6 227.7,199.4 228.3,199.2 228.8,199.2 229.0,199.2 229.3,199.3 229.4,199.3 229.6,199.4 229.8,199.4 230.0,199.5" fill="none" stroke="#1e1e1e" stroke-width="2.3" stroke-linejoin="round" stroke-linecap="round"/>
<polyline points="258.3,200.8 259.6,200.6 261.0,200.3 262.3,200.1 263.7,199.9 265.0,199.7 266.5,199.6 268.4,199.6 270.5,199.8 272.6,200.0 274.7,200.2 276.6,200.3 278.2,200.2 279.0,200.0 279.7,199.6 280.4,199.2 281.0,198.9 281.6,198.6 282.3,198.5 283.0,198.6 283.7,199.0 284.4,199.5 285.1,199.9 285.8,200.2 286.4,200.2 287.0,199.7 287.6,198.9 288.1,197.9 288.7,196.8 289.2,196.0 289.9,195.5 290.6,195.5 291.3,195.8 292.1,196.3 292.9,196.8 293.7,197.2 294.5,197.3 295.3,197.0 296.1,196.4 296.9,195.7 297.7,195.0 298.4,194.4 299.2,194.1 299.8,194.2 300.4,194.5 301.0,194.9 301.6,195.3 302.1,195.5 302.7,195.5 303.5,194.8 304.3,193.5 305.1,191.8 305.9,190.2 306.6,189.0 307.4,188.5 308.1,188.9 308.8,189.8 309.6,191.1 310.3,192.4 310.9,193.4 311.5,193.8 311.8,193.7 312.1,193.3 312.4,192.9 312.6,192.5 312.9,192.1 313.2,192.0 313.7,192.4 314.3,193.2 314.8,194.4 315.4,195.5 316.0,196.4 316.7,196.7 317.6,196.1 318.6,194.7 319.6,192.9 320.7,191.0 321.7,189.6 322.6,189.1 323.4,189.7 324.2,191.1 324.9,192.9 325.6,194.8 326.4,196.4 327.2,197.3 327.7,197.5 328.2,197.7 328.7,197.7 329.2,197.7 329.7,197.6 330.2,197.3 331.0,196.2 331.6,194.4 332.1,192.1 332.6,189.8 333.3,187.7 334.1,186.2 334.8,185.5 335.6,184.9 336.4,184.4 337.2,184.0 338.1,183.9 338.8,183.9 339.5,184.2 340.2,184.9 340.8,185.7 341.5,186.7 342.1,187.7 342.8,188.5 343.6,189.4 344.4,190.5 345.2,191.6 346.0,192.5 346.8,193.1 347.5,193.2 348.4,192.3 349.2,190.2 349.9,187.4 350.5,184.2 351.0,181.0 351.6,178.0 352.2,174.5 352.7,170.4 353.2,166.2 353.6,162.5 354.1,159.8 354.5,158.8 354.8,159.3 355.1,160.5 355.4,162.3 355.7,164.4 356.0,166.6 356.3,168.7 356.8,172.0 357.2,175.8 357.7,179.8 358.3,183.9 359.0,187.6 359.8,190.9 360.5,193.1 361.4,195.3 362.3,197.5 363.2,199.2 364.1,200.4 364.8,200.8 365.6,199.6 366.2,196.6 366.7,192.5 367.1,187.9 367.5,183.2 368.0,179.2 368.6,175.3 369.1,170.9 369.7,166.4 370.3,162.6 370.9,159.9 371.5,158.8 372.0,159.6 372.6,161.8 373.1,164.7 373.7,167.8 374.3,170.5 375.0,172.2 375.3,172.6 375.6,172.9 375.9,173.1 376.1,173.3 376.4,173.4 376.7,173.4 377.1,172.9 377.6,171.7 377.9,170.3 378.3,168.9 378.7,167.9 379.0,167.5 379.5,169.4 379.8,174.0 380.0,180.0 380.2,186.0 380.7,190.9 381.4,193.2 381.7,193.2 381.9,193.1 382.2,192.9 382.5,192.7 382.8,192.6 383.1,192.6 383.6,193.3 384.2,194.8 384.6,196.6 385.1,198.3 385.6,199.7 386.1,200.2 386.7,199.6 387.2,198.0 387.7,195.9 388.3,193.9 388.9,192.2 389.6,191.5 390.1,191.7 390.7,192.5 391.3,193.5 391.9,194.5 392.5,195.2 393.1,195.5 393.7,195.2 394.4,194.4 395.0,193.2 395.6,191.8 396.1,190.2 396.6,188.5 397.4,183.6 397.8,176.7 398.1,169.0 398.2,161.9 398.4,156.7 398.6,154.7 398.8,156.9 398.8,162.6 398.8,170.2 398.9,178.2 399.3,185.2 400.1,189.7 400.5,190.6 401.0,191.2 401.5,191.7 402.0,192.1 402.5,192.6 403.0,193.2 403.4,194.0 403.8,195.0 404.2,196.1 404.6,197.0 404.9,197.7 405.3,197.9 405.7,197.7 406.2,197.0 406.6,196.0 407.0,194.8 407.4,193.6 407.8,192.3 408.4,189.9 408.8,187.2 409.2,184.2 409.5,180.9 409.8,177.5 410.1,173.8 410.4,166.8 410.6,158.0 410.7,148.6 410.7,140.2 410.7,134.1 410.8,131.8 410.9,134.3 411.0,140.7 411.1,149.4 411.2,158.6 411.3,166.7 411.5,172.0 411.6,173.1 411.7,174.2 411.7,175.2 411.8,175.9 411.9,176.4 412.0,176.6 412.3,173.7 412.6,166.4 412.9,156.9 413.3,147.5 413.5,140.2 413.8,137.3 414.0,138.9 414.1,143.1 414.2,149.0 414.3,155.6 414.4,162.0 414.6,167.4 414.8,171.5 415.0,176.0 415.3,180.3 415.6,184.1 415.8,186.7 416.1,187.7 416.3,186.2 416.6,182.4 416.8,177.6 417.0,172.7 417.3,168.9 417.5,167.4 417.7,168.0 417.8,169.4 418.0,171.2 418.1,173.0 418.3,174.4 418.4,175.0 418.6,172.4 418.8,166.0 418.9,157.6 418.9,149.2 419.0,142.8 419.1,140.2 419.2,142.5 419.4,148.4 419.6,156.5 419.7,165.4 419.8,173.7 419.8,180.0 419.7,182.7 419.5,185.2 419.3,187.5 419.2,189.6 419.2,191.5 419.4,193.2 419.7,194.2 420.1,195.3 420.5,196.3 420.9,197.1 421.4,197.6 421.7,197.8 422.3,194.9 422.6,187.8 422.8,178.6 422.8,169.5 422.8,162.5 422.9,159.7 423.0,160.2 423.1,161.4 423.2,163.1 423.3,165.2 423.4,167.3 423.5,169.2 423.6,172.0 423.8,175.3 424.0,178.8 424.1,181.9 424.3,184.2 424.4,185.0 424.6,181.6 424.7,172.9 424.8,161.7 424.8,150.6 424.9,141.9 425.0,138.5 425.0,141.9 424.8,150.5 424.7,162.0 424.7,174.0 425.0,184.1 425.8,190.0 426.1,190.7 426.4,191.3 426.8,191.7 427.1,192.1 427.4,192.3 427.7,192.3 428.4,189.5 428.7,183.0 428.8,174.7 428.8,166.5 428.7,160.1 428.8,157.6 428.9,158.5 429.0,160.9 429.1,164.2 429.2,168.0 429.4,171.8 429.5,175.0 429.6,177.6 429.8,180.3 429.9,182.9 430.0,185.5 430.2,187.8 430.4,190.0 430.6,191.5 430.7,193.0 430.9,194.5 431.1,195.7 431.2,196.6 431.4,196.9 431.6,195.8 431.7,192.9 431.7,188.8 431.8,184.3 432.0,180.0 432.3,176.6 432.6,174.5 433.0,172.2 433.4,170.0 433.9,168.2 434.3,167.0 434.6,166.5 435.0,168.8 435.3,174.4 435.5,181.7 435.6,189.0 435.8,194.7 436.0,196.9 436.3,195.2 436.6,190.8 436.9,185.2 437.2,179.5 437.5,175.1 437.8,173.4 437.9,174.6 437.9,177.6 437.9,181.6 437.9,185.8 438.2,189.3 438.7,191.4 439.0,191.7 439.3,191.9 439.6,191.9 440.0,192.0 440.3,192.1 440.6,192.3 440.9,192.7 441.1,193.2 441.3,193.7 441.5,194.2 441.7,194.7 442.0,195.0 442.3,195.1 442.7,195.1 443.1,195.0 443.5,194.9 443.9,194.9 444.3,195.0 444.8,195.3 445.2,195.7 445.7,196.2 446.1,196.8 446.5,197.3 447.0,197.8 447.4,198.2 447.9,198.7 448.3,199.1 448.8,199.6 449.3,199.9 449.8,200.1 450.4,200.2 451.0,200.1 451.7,200.0 452.3,199.8 452.9,199.7 453.5,199.6 453.9,199.6 454.2,199.6 454.5,199.7 454.9,199.7 455.2,199.8 455.5,199.8" fill="none" stroke="#727272" stroke-width="2.3" stroke-linejoin="round" stroke-linecap="round"/>
<polyline points="485.8,200.8 487.3,200.7 488.7,200.5 490.2,200.3 491.6,200.2 493.1,200.1 494.5,200.0 495.9,200.0 497.3,200.1 498.7,200.2 500.0,200.3 501.4,200.3 502.7,200.2 503.9,200.0 505.1,199.6 506.3,199.2 507.5,198.8 508.6,198.6 509.7,198.5 510.6,198.7 511.4,199.1 512.2,199.5 513.0,199.9 513.7,200.2 514.4,200.2 515.1,199.8 515.6,199.1 516.2,198.1 516.7,197.2 517.3,196.5 517.9,196.1 518.5,196.1 519.2,196.4 519.9,196.8 520.6,197.2 521.3,197.5 522.0,197.6 522.8,197.3 523.5,196.8 524.3,196.1 525.1,195.4 525.9,194.9 526.6,194.6 527.2,194.7 527.8,194.9 528.4,195.3 529.0,195.6 529.5,195.8 530.1,195.8 530.9,195.2 531.8,194.0 532.6,192.5 533.4,191.1 534.1,190.0 534.8,189.7 535.5,190.5 536.2,192.2 536.7,194.4 537.3,196.7 537.8,198.3 538.3,199.0 538.7,198.4 539.1,196.9 539.4,195.0 539.7,193.1 540.1,191.6 540.6,190.9 541.1,191.2 541.6,192.1 542.2,193.3 542.8,194.5 543.5,195.6 544.1,196.1 544.6,196.2 545.1,196.1 545.6,195.9 546.1,195.7 546.6,195.4 547.1,195.0 547.7,194.2 548.3,193.2 548.9,191.9 549.5,190.8 550.0,190.0 550.6,189.7 551.3,190.3 552.0,191.8 552.7,193.8 553.4,195.7 554.1,197.3 554.7,197.9 555.1,197.8 555.5,197.5 555.9,197.0 556.3,196.3 556.6,195.7 557.0,195.0 557.5,193.8 558.0,192.2 558.5,190.5 558.9,188.9 559.4,187.7 560.0,187.0 560.3,186.9 560.7,186.9 561.0,187.0 561.3,187.2 561.7,187.4 562.0,187.7 562.5,188.5 562.9,189.6 563.3,191.0 563.7,192.4 564.1,193.6 564.7,194.4 565.2,194.7 565.7,194.9 566.3,195.0 566.9,195.0 567.5,195.1 568.1,195.3 568.9,195.7 569.7,196.4 570.5,197.1 571.3,197.7 572.1,198.0 572.8,198.0 573.7,197.1 574.5,195.4 575.1,193.1 575.7,190.5 576.2,187.9 576.8,185.6 577.4,183.4 578.0,181.3 578.6,179.2 579.1,176.9 579.6,174.6 580.1,172.2 580.6,168.4 581.1,163.8 581.5,159.0 581.9,154.7 582.2,151.7 582.6,150.5 582.9,151.1 583.2,152.9 583.4,155.4 583.7,158.3 583.9,161.3 584.2,164.2 584.5,168.3 584.8,173.1 585.1,178.1 585.4,183.0 585.8,187.4 586.2,191.0 586.4,192.7 586.6,194.3 586.9,195.9 587.1,197.1 587.5,198.0 587.9,198.4 588.5,198.1 589.2,197.2 590.0,195.9 590.8,194.3 591.5,192.6 592.2,191.0 592.9,188.7 593.6,186.2 594.1,183.6 594.6,180.7 595.1,177.8 595.6,174.9 596.2,170.8 596.7,165.9 597.2,160.9 597.7,156.5 598.2,153.3 598.7,152.1 599.1,152.6 599.4,154.1 599.8,156.1 600.2,158.5 600.5,160.8 600.9,162.8 601.2,164.5 601.4,166.4 601.7,168.3 602.0,170.0 602.4,171.3 603.0,172.2 603.5,172.4 604.0,172.3 604.6,172.2 605.3,172.0 605.8,172.0 606.3,172.2 607.0,174.1 607.4,177.6 607.5,181.7 607.6,185.8 607.8,188.9 608.3,190.3 608.7,190.2 609.1,189.7 609.5,189.0 609.9,188.4 610.3,187.9 610.7,187.7 611.1,188.2 611.5,189.2 611.8,190.5 612.2,191.9 612.5,193.0 613.0,193.7 613.3,193.9 613.6,194.0 614.0,194.0 614.4,194.0 614.7,193.9 615.0,193.7 615.4,193.1 615.8,192.2 616.1,191.1 616.4,190.1 616.7,189.3 617.0,189.0 617.4,189.4 617.8,190.5 618.2,191.9 618.6,193.3 619.1,194.4 619.7,195.0 620.2,195.0 620.8,194.9 621.4,194.5 622.0,194.1 622.6,193.6 623.1,193.0 623.6,192.1 624.0,191.1 624.4,190.0 624.6,188.7 624.9,187.2 625.1,185.6 625.5,180.7 625.7,173.8 625.8,166.3 625.8,159.4 625.9,154.3 626.0,152.3 626.2,154.5 626.4,160.1 626.6,167.7 626.9,175.9 627.3,183.2 627.8,188.3 628.1,189.7 628.4,191.0 628.7,192.2 629.1,193.2 629.4,193.9 629.8,194.4 630.0,194.5 630.1,194.6 630.3,194.7 630.5,194.7 630.6,194.7 630.8,194.6 631.2,193.8 631.6,192.2 632.0,190.2 632.3,188.3 632.6,186.9 632.9,186.3 633.1,187.2 633.3,189.3 633.3,192.1 633.4,194.8 633.6,196.9 633.8,197.8 634.1,197.4 634.4,196.3 634.8,194.8 635.2,193.0 635.6,191.2 635.9,189.5 636.3,187.9 636.6,186.2 637.0,184.6 637.3,182.8 637.6,180.8 637.8,178.5 638.1,171.6 638.3,162.0 638.3,151.5 638.2,141.9 638.2,134.8 638.2,132.1 638.3,134.3 638.4,139.9 638.5,147.6 638.6,156.1 638.8,164.0 639.0,170.0 639.2,172.7 639.3,175.4 639.5,178.0 639.7,180.1 639.9,181.6 640.1,182.1 640.4,179.0 640.6,171.1 640.7,160.9 640.9,150.7 641.0,142.8 641.2,139.7 641.3,141.3 641.5,145.6 641.6,151.6 641.8,158.3 642.0,164.7 642.2,170.0 642.4,173.6 642.7,177.6 643.0,181.4 643.3,184.6 643.6,186.9 643.8,187.7 644.0,185.6 644.2,180.4 644.4,173.5 644.5,166.7 644.6,161.5 644.8,159.4 644.9,160.0 645.1,161.6 645.2,163.9 645.3,166.6 645.5,169.4 645.6,172.0 645.8,176.0 646.0,180.9 646.3,185.9 646.5,190.5 646.7,193.7 647.0,195.0 647.2,193.8 647.4,190.7 647.7,186.8 647.9,182.8 648.1,179.7 648.4,178.5 648.7,179.5 649.0,182.1 649.3,185.4 649.6,188.7 649.9,191.3 650.2,192.3 650.6,190.2 651.0,184.9 651.4,178.0 651.8,171.1 652.2,165.8 652.5,163.7 652.8,166.0 653.0,171.8 653.1,179.3 653.3,186.9 653.6,192.7 653.9,195.0 654.3,193.2 654.8,188.8 655.3,183.0 655.9,177.3 656.3,172.9 656.7,171.1 657.0,173.2 657.1,178.5 657.1,185.4 657.2,192.3 657.3,197.6 657.6,199.7 657.8,199.1 658.1,197.6 658.4,195.3 658.8,192.7 659.1,190.1 659.4,187.7 659.8,184.8 660.2,181.3 660.6,177.7 661.0,174.6 661.4,172.3 661.7,171.5 662.0,173.6 662.3,178.8 662.5,185.6 662.7,192.4 662.9,197.6 663.1,199.7 663.2,198.7 663.3,196.2 663.4,192.9 663.6,189.5 663.9,186.6 664.5,184.9 664.8,184.6 665.1,184.4 665.4,184.3 665.8,184.3 666.1,184.3 666.4,184.4 666.9,185.1 667.2,186.3 667.4,187.9 667.7,189.5 667.9,191.1 668.2,192.3 668.4,192.9 668.6,193.5 668.8,194.0 669.0,194.4 669.3,194.8 669.6,195.0 669.9,195.1 670.2,195.0 670.5,194.9 670.8,194.8 671.1,194.6 671.4,194.6 671.7,194.6 672.1,194.6 672.4,194.6 672.7,194.7 673.0,194.8 673.3,195.0 673.6,195.4 673.8,196.1 673.9,196.8 674.0,197.5 674.3,198.2 674.7,198.7 675.6,199.1 676.8,199.2 678.2,199.3 679.6,199.2 680.8,199.2 681.6,199.2 681.8,199.2 682.0,199.2 682.1,199.3 682.2,199.3 682.4,199.3 682.5,199.3" fill="none" stroke="#4a4a4a" stroke-width="2.3" stroke-linejoin="round" stroke-linecap="round"/>
<path d="M95.13,201.70v-2.1M95.13,125.75v2.1M156.67,201.70v-2.1M156.67,125.75v2.1M218.20,201.70v-2.1M218.20,125.75v2.1" stroke="#000" stroke-width="1.3" fill="none"/>
<path d="M33.60,132.50h2.1M230.50,132.50h-2.1M33.60,166.90h2.1M230.50,166.90h-2.1" stroke="#000" stroke-width="1.3" fill="none"/>
<rect x="33.60" y="125.75" width="196.90" height="75.95" fill="none" stroke="#000" stroke-width="1.7" stroke-linejoin="round"/>
<path d="M319.63,201.70v-2.1M319.63,125.75v2.1M381.17,201.70v-2.1M381.17,125.75v2.1M442.71,201.70v-2.1M442.71,125.75v2.1" stroke="#000" stroke-width="1.3" fill="none"/>
<path d="M258.10,132.50h2.1M455.10,132.50h-2.1M258.10,166.90h2.1M455.10,166.90h-2.1" stroke="#000" stroke-width="1.3" fill="none"/>
<rect x="258.10" y="125.75" width="197.00" height="75.95" fill="none" stroke="#000" stroke-width="1.7" stroke-linejoin="round"/>
<path d="M546.93,201.70v-2.1M546.93,125.75v2.1M608.47,201.70v-2.1M608.47,125.75v2.1M670.00,201.70v-2.1M670.00,125.75v2.1" stroke="#000" stroke-width="1.3" fill="none"/>
<path d="M485.40,132.50h2.1M682.50,132.50h-2.1M485.40,166.90h2.1M682.50,166.90h-2.1" stroke="#000" stroke-width="1.3" fill="none"/>
<rect x="485.40" y="125.75" width="197.10" height="75.95" fill="none" stroke="#000" stroke-width="1.7" stroke-linejoin="round"/>
<text x="30.40" y="246.00" font-size="10.4" text-anchor="end" font-family='"Liberation Sans", Arial, Helvetica, sans-serif' stroke="#000" stroke-width="0.15" ><tspan font-family="IPAGothic, 'Liberation Sans', sans-serif">1</tspan>.2</text>
<text x="30.40" y="258.65" font-size="10.4" text-anchor="end" font-family='"Liberation Sans", Arial, Helvetica, sans-serif' stroke="#000" stroke-width="0.15" ><tspan font-family="IPAGothic, 'Liberation Sans', sans-serif">1</tspan></text>
<text x="30.40" y="274.46" font-size="10.4" text-anchor="end" font-family='"Liberation Sans", Arial, Helvetica, sans-serif' stroke="#000" stroke-width="0.15" >0.75</text>
<text x="30.40" y="290.27" font-size="10.4" text-anchor="end" font-family='"Liberation Sans", Arial, Helvetica, sans-serif' stroke="#000" stroke-width="0.15" >0.5</text>
<text x="30.40" y="306.09" font-size="10.4" text-anchor="end" font-family='"Liberation Sans", Arial, Helvetica, sans-serif' stroke="#000" stroke-width="0.15" >0.25</text>
<text x="30.40" y="321.90" font-size="10.4" text-anchor="end" font-family='"Liberation Sans", Arial, Helvetica, sans-serif' stroke="#000" stroke-width="0.15" >0</text>
<polyline points="33.8,309.6 46.1,310.3 59.2,311.0 72.5,309.4 86.1,307.8 98.9,304.0 112.1,290.4 125.2,268.6 138.5,253.8 151.5,269.9 164.4,294.4 177.5,308.6 191.3,309.6 204.5,310.3 217.7,311.2 229.6,312.4" fill="none" stroke="#1e1e1e" stroke-width="2.2" stroke-linejoin="miter" stroke-linecap="butt"/>
<line x1="57.40" y1="329.50" x2="62.40" y2="329.50" stroke="#222" stroke-width="0.7"/>
<line x1="65.00" y1="329.50" x2="73.40" y2="329.50" stroke="#000" stroke-width="0.9"/>
<text x="69.30" y="326.50" font-size="8.4" text-anchor="middle" font-family='"DejaVu Serif", serif'  font-style="italic" fill="#333">&#955;</text>
<text x="69.20" y="337.50" font-size="7.7" text-anchor="middle" font-family='"Liberation Serif", "Times New Roman", serif' stroke="#000" stroke-width="0.3" >15</text>
<line x1="75.65" y1="329.50" x2="80.65" y2="329.50" stroke="#222" stroke-width="0.7"/>
<line x1="83.25" y1="329.50" x2="91.65" y2="329.50" stroke="#000" stroke-width="0.9"/>
<text x="87.55" y="326.50" font-size="8.4" text-anchor="middle" font-family='"DejaVu Serif", serif'  font-style="italic" fill="#333">&#955;</text>
<text x="87.45" y="337.50" font-size="7.7" text-anchor="middle" font-family='"Liberation Serif", "Times New Roman", serif' stroke="#000" stroke-width="0.3" >20</text>
<line x1="93.90" y1="329.50" x2="98.90" y2="329.50" stroke="#222" stroke-width="0.7"/>
<line x1="101.50" y1="329.50" x2="109.90" y2="329.50" stroke="#000" stroke-width="0.9"/>
<text x="105.80" y="326.50" font-size="8.4" text-anchor="middle" font-family='"DejaVu Serif", serif'  font-style="italic" fill="#333">&#955;</text>
<text x="105.70" y="337.50" font-size="7.7" text-anchor="middle" font-family='"Liberation Serif", "Times New Roman", serif' stroke="#000" stroke-width="0.3" >30</text>
<line x1="116.71" y1="329.50" x2="121.71" y2="329.50" stroke="#222" stroke-width="0.7"/>
<line x1="124.31" y1="329.50" x2="132.71" y2="329.50" stroke="#000" stroke-width="0.9"/>
<text x="128.61" y="326.50" font-size="8.4" text-anchor="middle" font-family='"DejaVu Serif", serif'  font-style="italic" fill="#333">&#955;</text>
<text x="128.51" y="337.50" font-size="7.7" text-anchor="middle" font-family='"Liberation Serif", "Times New Roman", serif' stroke="#000" stroke-width="0.3" >80</text>
<text x="138.30" y="332.20" font-size="8.4" text-anchor="middle" font-family='"Liberation Serif", "Times New Roman", serif' stroke="#000" stroke-width="0.2" >0</text>
<line x1="147.79" y1="329.50" x2="156.19" y2="329.50" stroke="#000" stroke-width="0.9"/>
<text x="152.09" y="326.50" font-size="8.4" text-anchor="middle" font-family='"DejaVu Serif", serif'  font-style="italic" fill="#333">&#955;</text>
<text x="151.99" y="337.50" font-size="7.7" text-anchor="middle" font-family='"Liberation Serif", "Times New Roman", serif' stroke="#000" stroke-width="0.3" >80</text>
<line x1="170.60" y1="329.50" x2="179.00" y2="329.50" stroke="#000" stroke-width="0.9"/>
<text x="174.90" y="326.50" font-size="8.4" text-anchor="middle" font-family='"DejaVu Serif", serif'  font-style="italic" fill="#333">&#955;</text>
<text x="174.80" y="337.50" font-size="7.7" text-anchor="middle" font-family='"Liberation Serif", "Times New Roman", serif' stroke="#000" stroke-width="0.3" >30</text>
<line x1="188.85" y1="329.50" x2="197.25" y2="329.50" stroke="#000" stroke-width="0.9"/>
<text x="193.15" y="326.50" font-size="8.4" text-anchor="middle" font-family='"DejaVu Serif", serif'  font-style="italic" fill="#333">&#955;</text>
<text x="193.05" y="337.50" font-size="7.7" text-anchor="middle" font-family='"Liberation Serif", "Times New Roman", serif' stroke="#000" stroke-width="0.3" >20</text>
<line x1="207.10" y1="329.50" x2="215.50" y2="329.50" stroke="#000" stroke-width="0.9"/>
<text x="211.40" y="326.50" font-size="8.4" text-anchor="middle" font-family='"DejaVu Serif", serif'  font-style="italic" fill="#333">&#955;</text>
<text x="211.30" y="337.50" font-size="7.7" text-anchor="middle" font-family='"Liberation Serif", "Times New Roman", serif' stroke="#000" stroke-width="0.3" >15</text>
<path d="M65.30,317.20v-2.1M65.30,241.30v2.1M83.55,317.20v-2.1M83.55,241.30v2.1M101.80,317.20v-2.1M101.80,241.30v2.1M124.61,317.20v-2.1M124.61,241.30v2.1M138.30,317.20v-2.1M138.30,241.30v2.1M151.99,317.20v-2.1M151.99,241.30v2.1M174.80,317.20v-2.1M174.80,241.30v2.1M193.05,317.20v-2.1M193.05,241.30v2.1M211.30,317.20v-2.1M211.30,241.30v2.1" stroke="#000" stroke-width="1.3" fill="none"/>
<path d="M33.60,253.95h2.1M230.50,253.95h-2.1M33.60,269.76h2.1M230.50,269.76h-2.1M33.60,285.57h2.1M230.50,285.57h-2.1M33.60,301.39h2.1M230.50,301.39h-2.1" stroke="#000" stroke-width="1.3" fill="none"/>
<rect x="33.60" y="241.30" width="196.90" height="75.90" fill="none" stroke="#000" stroke-width="1.7" stroke-linejoin="round"/>
<text x="254.90" y="246.00" font-size="10.4" text-anchor="end" font-family='"Liberation Sans", Arial, Helvetica, sans-serif' stroke="#000" stroke-width="0.15" ><tspan font-family="IPAGothic, 'Liberation Sans', sans-serif">1</tspan>.2</text>
<text x="254.90" y="258.65" font-size="10.4" text-anchor="end" font-family='"Liberation Sans", Arial, Helvetica, sans-serif' stroke="#000" stroke-width="0.15" ><tspan font-family="IPAGothic, 'Liberation Sans', sans-serif">1</tspan></text>
<text x="254.90" y="274.46" font-size="10.4" text-anchor="end" font-family='"Liberation Sans", Arial, Helvetica, sans-serif' stroke="#000" stroke-width="0.15" >0.75</text>
<text x="254.90" y="290.27" font-size="10.4" text-anchor="end" font-family='"Liberation Sans", Arial, Helvetica, sans-serif' stroke="#000" stroke-width="0.15" >0.5</text>
<text x="254.90" y="306.09" font-size="10.4" text-anchor="end" font-family='"Liberation Sans", Arial, Helvetica, sans-serif' stroke="#000" stroke-width="0.15" >0.25</text>
<text x="254.90" y="321.90" font-size="10.4" text-anchor="end" font-family='"Liberation Sans", Arial, Helvetica, sans-serif' stroke="#000" stroke-width="0.15" >0</text>
<polyline points="258.8,311.0 271.3,308.1 284.2,307.3 297.1,309.0 310.0,306.4 323.7,299.5 337.1,281.8 349.9,264.6 363.2,253.8 376.5,265.2 389.4,287.8 402.3,301.6 415.5,305.5 428.6,303.0 441.8,302.1 455.0,305.0" fill="none" stroke="#727272" stroke-width="2.2" stroke-linejoin="miter" stroke-linecap="butt"/>
<line x1="282.15" y1="329.50" x2="287.15" y2="329.50" stroke="#222" stroke-width="0.7"/>
<line x1="289.75" y1="329.50" x2="298.15" y2="329.50" stroke="#000" stroke-width="0.9"/>
<text x="294.05" y="326.50" font-size="8.4" text-anchor="middle" font-family='"DejaVu Serif", serif'  font-style="italic" fill="#333">&#955;</text>
<text x="293.95" y="337.50" font-size="7.7" text-anchor="middle" font-family='"Liberation Serif", "Times New Roman", serif' stroke="#000" stroke-width="0.3" >15</text>
<line x1="300.40" y1="329.50" x2="305.40" y2="329.50" stroke="#222" stroke-width="0.7"/>
<line x1="308.00" y1="329.50" x2="316.40" y2="329.50" stroke="#000" stroke-width="0.9"/>
<text x="312.30" y="326.50" font-size="8.4" text-anchor="middle" font-family='"DejaVu Serif", serif'  font-style="italic" fill="#333">&#955;</text>
<text x="312.20" y="337.50" font-size="7.7" text-anchor="middle" font-family='"Liberation Serif", "Times New Roman", serif' stroke="#000" stroke-width="0.3" >20</text>
<line x1="318.65" y1="329.50" x2="323.65" y2="329.50" stroke="#222" stroke-width="0.7"/>
<line x1="326.25" y1="329.50" x2="334.65" y2="329.50" stroke="#000" stroke-width="0.9"/>
<text x="330.55" y="326.50" font-size="8.4" text-anchor="middle" font-family='"DejaVu Serif", serif'  font-style="italic" fill="#333">&#955;</text>
<text x="330.45" y="337.50" font-size="7.7" text-anchor="middle" font-family='"Liberation Serif", "Times New Roman", serif' stroke="#000" stroke-width="0.3" >30</text>
<line x1="341.46" y1="329.50" x2="346.46" y2="329.50" stroke="#222" stroke-width="0.7"/>
<line x1="349.06" y1="329.50" x2="357.46" y2="329.50" stroke="#000" stroke-width="0.9"/>
<text x="353.36" y="326.50" font-size="8.4" text-anchor="middle" font-family='"DejaVu Serif", serif'  font-style="italic" fill="#333">&#955;</text>
<text x="353.26" y="337.50" font-size="7.7" text-anchor="middle" font-family='"Liberation Serif", "Times New Roman", serif' stroke="#000" stroke-width="0.3" >80</text>
<text x="363.05" y="332.20" font-size="8.4" text-anchor="middle" font-family='"Liberation Serif", "Times New Roman", serif' stroke="#000" stroke-width="0.2" >0</text>
<line x1="372.54" y1="329.50" x2="380.94" y2="329.50" stroke="#000" stroke-width="0.9"/>
<text x="376.84" y="326.50" font-size="8.4" text-anchor="middle" font-family='"DejaVu Serif", serif'  font-style="italic" fill="#333">&#955;</text>
<text x="376.74" y="337.50" font-size="7.7" text-anchor="middle" font-family='"Liberation Serif", "Times New Roman", serif' stroke="#000" stroke-width="0.3" >80</text>
<line x1="395.35" y1="329.50" x2="403.75" y2="329.50" stroke="#000" stroke-width="0.9"/>
<text x="399.65" y="326.50" font-size="8.4" text-anchor="middle" font-family='"DejaVu Serif", serif'  font-style="italic" fill="#333">&#955;</text>
<text x="399.55" y="337.50" font-size="7.7" text-anchor="middle" font-family='"Liberation Serif", "Times New Roman", serif' stroke="#000" stroke-width="0.3" >30</text>
<line x1="413.60" y1="329.50" x2="422.00" y2="329.50" stroke="#000" stroke-width="0.9"/>
<text x="417.90" y="326.50" font-size="8.4" text-anchor="middle" font-family='"DejaVu Serif", serif'  font-style="italic" fill="#333">&#955;</text>
<text x="417.80" y="337.50" font-size="7.7" text-anchor="middle" font-family='"Liberation Serif", "Times New Roman", serif' stroke="#000" stroke-width="0.3" >20</text>
<line x1="431.85" y1="329.50" x2="440.25" y2="329.50" stroke="#000" stroke-width="0.9"/>
<text x="436.15" y="326.50" font-size="8.4" text-anchor="middle" font-family='"DejaVu Serif", serif'  font-style="italic" fill="#333">&#955;</text>
<text x="436.05" y="337.50" font-size="7.7" text-anchor="middle" font-family='"Liberation Serif", "Times New Roman", serif' stroke="#000" stroke-width="0.3" >15</text>
<path d="M290.05,317.20v-2.1M290.05,241.30v2.1M308.30,317.20v-2.1M308.30,241.30v2.1M326.55,317.20v-2.1M326.55,241.30v2.1M349.36,317.20v-2.1M349.36,241.30v2.1M363.05,317.20v-2.1M363.05,241.30v2.1M376.74,317.20v-2.1M376.74,241.30v2.1M399.55,317.20v-2.1M399.55,241.30v2.1M417.80,317.20v-2.1M417.80,241.30v2.1M436.05,317.20v-2.1M436.05,241.30v2.1" stroke="#000" stroke-width="1.3" fill="none"/>
<path d="M258.10,253.95h2.1M455.10,253.95h-2.1M258.10,269.76h2.1M455.10,269.76h-2.1M258.10,285.57h2.1M455.10,285.57h-2.1M258.10,301.39h2.1M455.10,301.39h-2.1" stroke="#000" stroke-width="1.3" fill="none"/>
<rect x="258.10" y="241.30" width="197.00" height="75.90" fill="none" stroke="#000" stroke-width="1.7" stroke-linejoin="round"/>
<text x="482.20" y="246.00" font-size="10.4" text-anchor="end" font-family='"Liberation Sans", Arial, Helvetica, sans-serif' stroke="#000" stroke-width="0.15" ><tspan font-family="IPAGothic, 'Liberation Sans', sans-serif">1</tspan>.2</text>
<text x="482.20" y="258.65" font-size="10.4" text-anchor="end" font-family='"Liberation Sans", Arial, Helvetica, sans-serif' stroke="#000" stroke-width="0.15" ><tspan font-family="IPAGothic, 'Liberation Sans', sans-serif">1</tspan></text>
<text x="482.20" y="274.46" font-size="10.4" text-anchor="end" font-family='"Liberation Sans", Arial, Helvetica, sans-serif' stroke="#000" stroke-width="0.15" >0.75</text>
<text x="482.20" y="290.27" font-size="10.4" text-anchor="end" font-family='"Liberation Sans", Arial, Helvetica, sans-serif' stroke="#000" stroke-width="0.15" >0.5</text>
<text x="482.20" y="306.09" font-size="10.4" text-anchor="end" font-family='"Liberation Sans", Arial, Helvetica, sans-serif' stroke="#000" stroke-width="0.15" >0.25</text>
<text x="482.20" y="321.90" font-size="10.4" text-anchor="end" font-family='"Liberation Sans", Arial, Helvetica, sans-serif' stroke="#000" stroke-width="0.15" >0</text>
<polyline points="486.3,297.3 498.6,293.5 511.8,299.4 524.7,306.4 537.6,301.6 551.0,296.4 564.2,282.7 577.6,262.9 590.7,253.8 603.5,261.2 616.4,281.8 629.8,305.5 643.2,298.1 656.1,294.7 669.4,301.1 682.0,301.9" fill="none" stroke="#4a4a4a" stroke-width="2.2" stroke-linejoin="miter" stroke-linecap="butt"/>
<line x1="509.70" y1="329.50" x2="514.70" y2="329.50" stroke="#222" stroke-width="0.7"/>
<line x1="517.30" y1="329.50" x2="525.70" y2="329.50" stroke="#000" stroke-width="0.9"/>
<text x="521.60" y="326.50" font-size="8.4" text-anchor="middle" font-family='"DejaVu Serif", serif'  font-style="italic" fill="#333">&#955;</text>
<text x="521.50" y="337.50" font-size="7.7" text-anchor="middle" font-family='"Liberation Serif", "Times New Roman", serif' stroke="#000" stroke-width="0.3" >15</text>
<line x1="527.95" y1="329.50" x2="532.95" y2="329.50" stroke="#222" stroke-width="0.7"/>
<line x1="535.55" y1="329.50" x2="543.95" y2="329.50" stroke="#000" stroke-width="0.9"/>
<text x="539.85" y="326.50" font-size="8.4" text-anchor="middle" font-family='"DejaVu Serif", serif'  font-style="italic" fill="#333">&#955;</text>
<text x="539.75" y="337.50" font-size="7.7" text-anchor="middle" font-family='"Liberation Serif", "Times New Roman", serif' stroke="#000" stroke-width="0.3" >20</text>
<line x1="546.20" y1="329.50" x2="551.20" y2="329.50" stroke="#222" stroke-width="0.7"/>
<line x1="553.80" y1="329.50" x2="562.20" y2="329.50" stroke="#000" stroke-width="0.9"/>
<text x="558.10" y="326.50" font-size="8.4" text-anchor="middle" font-family='"DejaVu Serif", serif'  font-style="italic" fill="#333">&#955;</text>
<text x="558.00" y="337.50" font-size="7.7" text-anchor="middle" font-family='"Liberation Serif", "Times New Roman", serif' stroke="#000" stroke-width="0.3" >30</text>
<line x1="569.01" y1="329.50" x2="574.01" y2="329.50" stroke="#222" stroke-width="0.7"/>
<line x1="576.61" y1="329.50" x2="585.01" y2="329.50" stroke="#000" stroke-width="0.9"/>
<text x="580.91" y="326.50" font-size="8.4" text-anchor="middle" font-family='"DejaVu Serif", serif'  font-style="italic" fill="#333">&#955;</text>
<text x="580.81" y="337.50" font-size="7.7" text-anchor="middle" font-family='"Liberation Serif", "Times New Roman", serif' stroke="#000" stroke-width="0.3" >80</text>
<text x="590.60" y="332.20" font-size="8.4" text-anchor="middle" font-family='"Liberation Serif", "Times New Roman", serif' stroke="#000" stroke-width="0.2" >0</text>
<line x1="600.09" y1="329.50" x2="608.49" y2="329.50" stroke="#000" stroke-width="0.9"/>
<text x="604.39" y="326.50" font-size="8.4" text-anchor="middle" font-family='"DejaVu Serif", serif'  font-style="italic" fill="#333">&#955;</text>
<text x="604.29" y="337.50" font-size="7.7" text-anchor="middle" font-family='"Liberation Serif", "Times New Roman", serif' stroke="#000" stroke-width="0.3" >80</text>
<line x1="622.90" y1="329.50" x2="631.30" y2="329.50" stroke="#000" stroke-width="0.9"/>
<text x="627.20" y="326.50" font-size="8.4" text-anchor="middle" font-family='"DejaVu Serif", serif'  font-style="italic" fill="#333">&#955;</text>
<text x="627.10" y="337.50" font-size="7.7" text-anchor="middle" font-family='"Liberation Serif", "Times New Roman", serif' stroke="#000" stroke-width="0.3" >30</text>
<line x1="641.15" y1="329.50" x2="649.55" y2="329.50" stroke="#000" stroke-width="0.9"/>
<text x="645.45" y="326.50" font-size="8.4" text-anchor="middle" font-family='"DejaVu Serif", serif'  font-style="italic" fill="#333">&#955;</text>
<text x="645.35" y="337.50" font-size="7.7" text-anchor="middle" font-family='"Liberation Serif", "Times New Roman", serif' stroke="#000" stroke-width="0.3" >20</text>
<line x1="659.40" y1="329.50" x2="667.80" y2="329.50" stroke="#000" stroke-width="0.9"/>
<text x="663.70" y="326.50" font-size="8.4" text-anchor="middle" font-family='"DejaVu Serif", serif'  font-style="italic" fill="#333">&#955;</text>
<text x="663.60" y="337.50" font-size="7.7" text-anchor="middle" font-family='"Liberation Serif", "Times New Roman", serif' stroke="#000" stroke-width="0.3" >15</text>
<path d="M517.60,317.20v-2.1M517.60,241.30v2.1M535.85,317.20v-2.1M535.85,241.30v2.1M554.10,317.20v-2.1M554.10,241.30v2.1M576.91,317.20v-2.1M576.91,241.30v2.1M590.60,317.20v-2.1M590.60,241.30v2.1M604.29,317.20v-2.1M604.29,241.30v2.1M627.10,317.20v-2.1M627.10,241.30v2.1M645.35,317.20v-2.1M645.35,241.30v2.1M663.60,317.20v-2.1M663.60,241.30v2.1" stroke="#000" stroke-width="1.3" fill="none"/>
<path d="M485.40,253.95h2.1M682.50,253.95h-2.1M485.40,269.76h2.1M682.50,269.76h-2.1M485.40,285.57h2.1M682.50,285.57h-2.1M485.40,301.39h2.1M682.50,301.39h-2.1" stroke="#000" stroke-width="1.3" fill="none"/>
<rect x="485.40" y="241.30" width="197.10" height="75.90" fill="none" stroke="#000" stroke-width="1.7" stroke-linejoin="round"/>
<text x="259.90" y="386.00" font-size="10.4" text-anchor="end" font-family='"Liberation Sans", Arial, Helvetica, sans-serif' stroke="#000" stroke-width="0.15" ><tspan font-family="IPAGothic, 'Liberation Sans', sans-serif">1</tspan>.2</text>
<text x="259.90" y="398.65" font-size="10.4" text-anchor="end" font-family='"Liberation Sans", Arial, Helvetica, sans-serif' stroke="#000" stroke-width="0.15" ><tspan font-family="IPAGothic, 'Liberation Sans', sans-serif">1</tspan></text>
<text x="259.90" y="414.46" font-size="10.4" text-anchor="end" font-family='"Liberation Sans", Arial, Helvetica, sans-serif' stroke="#000" stroke-width="0.15" >0.75</text>
<text x="259.90" y="430.27" font-size="10.4" text-anchor="end" font-family='"Liberation Sans", Arial, Helvetica, sans-serif' stroke="#000" stroke-width="0.15" >0.5</text>
<text x="259.90" y="446.09" font-size="10.4" text-anchor="end" font-family='"Liberation Sans", Arial, Helvetica, sans-serif' stroke="#000" stroke-width="0.15" >0.25</text>
<text x="259.90" y="461.90" font-size="10.4" text-anchor="end" font-family='"Liberation Sans", Arial, Helvetica, sans-serif' stroke="#000" stroke-width="0.15" >0</text>
<polyline points="263.5,451.6 276.3,451.6 289.2,452.8 302.1,451.4 314.6,448.5 327.9,439.0 340.8,422.3 352.8,403.8 366.0,393.8 379.1,404.3 391.4,427.8 404.8,450.5 417.7,452.8 430.6,452.4 443.2,453.3 455.6,451.6" fill="none" stroke="#a8a8a8" stroke-width="2.2" stroke-linejoin="miter" stroke-linecap="butt"/>
<line x1="285.53" y1="468.70" x2="290.53" y2="468.70" stroke="#222" stroke-width="0.7"/>
<line x1="293.13" y1="468.70" x2="301.53" y2="468.70" stroke="#000" stroke-width="0.9"/>
<text x="297.43" y="466.50" font-size="8.4" text-anchor="middle" font-family='"DejaVu Serif", serif'  font-style="italic" fill="#333">&#955;</text>
<text x="297.33" y="477.50" font-size="7.7" text-anchor="middle" font-family='"Liberation Serif", "Times New Roman", serif' stroke="#000" stroke-width="0.3" >15</text>
<line x1="303.70" y1="468.70" x2="308.70" y2="468.70" stroke="#222" stroke-width="0.7"/>
<line x1="311.30" y1="468.70" x2="319.70" y2="468.70" stroke="#000" stroke-width="0.9"/>
<text x="315.60" y="466.50" font-size="8.4" text-anchor="middle" font-family='"DejaVu Serif", serif'  font-style="italic" fill="#333">&#955;</text>
<text x="315.50" y="477.50" font-size="7.7" text-anchor="middle" font-family='"Liberation Serif", "Times New Roman", serif' stroke="#000" stroke-width="0.3" >20</text>
<line x1="321.87" y1="468.70" x2="326.87" y2="468.70" stroke="#222" stroke-width="0.7"/>
<line x1="329.47" y1="468.70" x2="337.87" y2="468.70" stroke="#000" stroke-width="0.9"/>
<text x="333.77" y="466.50" font-size="8.4" text-anchor="middle" font-family='"DejaVu Serif", serif'  font-style="italic" fill="#333">&#955;</text>
<text x="333.67" y="477.50" font-size="7.7" text-anchor="middle" font-family='"Liberation Serif", "Times New Roman", serif' stroke="#000" stroke-width="0.3" >30</text>
<line x1="344.58" y1="468.70" x2="349.58" y2="468.70" stroke="#222" stroke-width="0.7"/>
<line x1="352.18" y1="468.70" x2="360.58" y2="468.70" stroke="#000" stroke-width="0.9"/>
<text x="356.48" y="466.50" font-size="8.4" text-anchor="middle" font-family='"DejaVu Serif", serif'  font-style="italic" fill="#333">&#955;</text>
<text x="356.38" y="477.50" font-size="7.7" text-anchor="middle" font-family='"Liberation Serif", "Times New Roman", serif' stroke="#000" stroke-width="0.3" >80</text>
<text x="366.10" y="472.20" font-size="8.4" text-anchor="middle" font-family='"Liberation Serif", "Times New Roman", serif' stroke="#000" stroke-width="0.2" >0</text>
<line x1="375.53" y1="468.70" x2="383.93" y2="468.70" stroke="#000" stroke-width="0.9"/>
<text x="379.83" y="466.50" font-size="8.4" text-anchor="middle" font-family='"DejaVu Serif", serif'  font-style="italic" fill="#333">&#955;</text>
<text x="379.73" y="477.50" font-size="7.7" text-anchor="middle" font-family='"Liberation Serif", "Times New Roman", serif' stroke="#000" stroke-width="0.3" >80</text>
<line x1="398.23" y1="468.70" x2="406.63" y2="468.70" stroke="#000" stroke-width="0.9"/>
<text x="402.53" y="466.50" font-size="8.4" text-anchor="middle" font-family='"DejaVu Serif", serif'  font-style="italic" fill="#333">&#955;</text>
<text x="402.43" y="477.50" font-size="7.7" text-anchor="middle" font-family='"Liberation Serif", "Times New Roman", serif' stroke="#000" stroke-width="0.3" >30</text>
<line x1="416.40" y1="468.70" x2="424.80" y2="468.70" stroke="#000" stroke-width="0.9"/>
<text x="420.70" y="466.50" font-size="8.4" text-anchor="middle" font-family='"DejaVu Serif", serif'  font-style="italic" fill="#333">&#955;</text>
<text x="420.60" y="477.50" font-size="7.7" text-anchor="middle" font-family='"Liberation Serif", "Times New Roman", serif' stroke="#000" stroke-width="0.3" >20</text>
<line x1="434.57" y1="468.70" x2="442.97" y2="468.70" stroke="#000" stroke-width="0.9"/>
<text x="438.87" y="466.50" font-size="8.4" text-anchor="middle" font-family='"DejaVu Serif", serif'  font-style="italic" fill="#333">&#955;</text>
<text x="438.77" y="477.50" font-size="7.7" text-anchor="middle" font-family='"Liberation Serif", "Times New Roman", serif' stroke="#000" stroke-width="0.3" >15</text>
<path d="M294.52,457.20v-2.1M294.52,381.30v2.1M312.35,457.20v-2.1M312.35,381.30v2.1M330.18,457.20v-2.1M330.18,381.30v2.1M352.48,457.20v-2.1M352.48,381.30v2.1M365.85,457.20v-2.1M365.85,381.30v2.1M379.23,457.20v-2.1M379.23,381.30v2.1M401.52,457.20v-2.1M401.52,381.30v2.1M419.35,457.20v-2.1M419.35,381.30v2.1M437.18,457.20v-2.1M437.18,381.30v2.1" stroke="#000" stroke-width="1.3" fill="none"/>
<path d="M263.10,393.95h2.1M456.00,393.95h-2.1M263.10,409.76h2.1M456.00,409.76h-2.1M263.10,425.57h2.1M456.00,425.57h-2.1M263.10,441.39h2.1M456.00,441.39h-2.1" stroke="#000" stroke-width="1.3" fill="none"/>
<rect x="263.10" y="381.30" width="192.90" height="75.90" fill="none" stroke="#000" stroke-width="1.7" stroke-linejoin="round"/>
<line x1="222.90" y1="340.60" x2="303.19" y2="371.71" stroke="#a3a3a3" stroke-width="1.9"/>
<polygon points="312.70,375.40 298.16,377.49 303.19,371.71 303.37,364.06" fill="#a3a3a3"/>
<line x1="361.80" y1="344.90" x2="361.80" y2="368.30" stroke="#a3a3a3" stroke-width="1.9"/>
<polygon points="361.80,378.50 354.60,365.70 361.80,368.30 369.00,365.70" fill="#a3a3a3"/>
<line x1="514.80" y1="346.00" x2="430.20" y2="373.54" stroke="#a3a3a3" stroke-width="1.9"/>
<polygon points="420.50,376.70 430.44,365.89 430.20,373.54 434.90,379.58" fill="#a3a3a3"/>
</svg></body></html>
